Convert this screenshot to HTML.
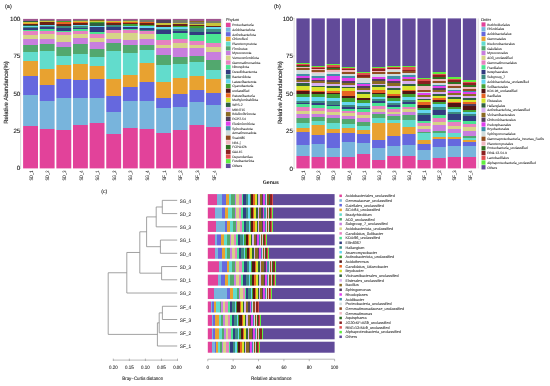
<!DOCTYPE html>
<html><head><meta charset="utf-8"><style>
html,body{margin:0;padding:0;background:#fff;width:550px;height:386px;overflow:hidden}
svg{display:block;will-change:transform}
text{font-family:"Liberation Sans",sans-serif;text-rendering:geometricPrecision}
</style></head><body>
<svg width="550" height="386" viewBox="0 0 550 386">
<rect x="0" y="0" width="550" height="386" fill="#fff"/>
<defs><linearGradient id="g0" x1="0" y1="0" x2="0" y2="1"><stop offset="0.00000" stop-color="#a0558e"/><stop offset="0.01338" stop-color="#a0558e"/><stop offset="0.01338" stop-color="#2e6040"/><stop offset="0.01806" stop-color="#2e6040"/><stop offset="0.01806" stop-color="#c8c43a"/><stop offset="0.02475" stop-color="#c8c43a"/><stop offset="0.02475" stop-color="#e8a230"/><stop offset="0.03278" stop-color="#e8a230"/><stop offset="0.03278" stop-color="#6a2216"/><stop offset="0.03946" stop-color="#6a2216"/><stop offset="0.03946" stop-color="#2e6040"/><stop offset="0.04615" stop-color="#2e6040"/><stop offset="0.04615" stop-color="#64d8f0"/><stop offset="0.05217" stop-color="#64d8f0"/><stop offset="0.05217" stop-color="#3c8c80"/><stop offset="0.06288" stop-color="#3c8c80"/><stop offset="0.06288" stop-color="#323c80"/><stop offset="0.07157" stop-color="#323c80"/><stop offset="0.07157" stop-color="#4ae492"/><stop offset="0.07960" stop-color="#4ae492"/><stop offset="0.07960" stop-color="#e682c0"/><stop offset="0.10569" stop-color="#e682c0"/><stop offset="0.10569" stop-color="#d6d488"/><stop offset="0.13712" stop-color="#d6d488"/><stop offset="0.13712" stop-color="#c87ede"/><stop offset="0.17124" stop-color="#c87ede"/><stop offset="0.17124" stop-color="#52a86e"/><stop offset="0.22074" stop-color="#52a86e"/><stop offset="0.22074" stop-color="#62dccc"/><stop offset="0.27960" stop-color="#62dccc"/><stop offset="0.27960" stop-color="#e8a230"/><stop offset="0.38194" stop-color="#e8a230"/><stop offset="0.38194" stop-color="#6668de"/><stop offset="0.50970" stop-color="#6668de"/><stop offset="0.50970" stop-color="#78b4dc"/><stop offset="0.71773" stop-color="#78b4dc"/><stop offset="0.71773" stop-color="#e2429a"/><stop offset="1.00000" stop-color="#e2429a"/></linearGradient><linearGradient id="g1" x1="0" y1="0" x2="0" y2="1"><stop offset="0.00000" stop-color="#a0558e"/><stop offset="0.00870" stop-color="#a0558e"/><stop offset="0.00870" stop-color="#7a7a6a"/><stop offset="0.01739" stop-color="#7a7a6a"/><stop offset="0.01739" stop-color="#c8c43a"/><stop offset="0.02408" stop-color="#c8c43a"/><stop offset="0.02408" stop-color="#6a2216"/><stop offset="0.03880" stop-color="#6a2216"/><stop offset="0.03880" stop-color="#64d8f0"/><stop offset="0.05017" stop-color="#64d8f0"/><stop offset="0.05017" stop-color="#3c8c80"/><stop offset="0.05619" stop-color="#3c8c80"/><stop offset="0.05619" stop-color="#323c80"/><stop offset="0.06890" stop-color="#323c80"/><stop offset="0.06890" stop-color="#4ae492"/><stop offset="0.07960" stop-color="#4ae492"/><stop offset="0.07960" stop-color="#e682c0"/><stop offset="0.10234" stop-color="#e682c0"/><stop offset="0.10234" stop-color="#d6d488"/><stop offset="0.13445" stop-color="#d6d488"/><stop offset="0.13445" stop-color="#c87ede"/><stop offset="0.16856" stop-color="#c87ede"/><stop offset="0.16856" stop-color="#52a86e"/><stop offset="0.21472" stop-color="#52a86e"/><stop offset="0.21472" stop-color="#62dccc"/><stop offset="0.33311" stop-color="#62dccc"/><stop offset="0.33311" stop-color="#e8a230"/><stop offset="0.44080" stop-color="#e8a230"/><stop offset="0.44080" stop-color="#6668de"/><stop offset="0.55117" stop-color="#6668de"/><stop offset="0.55117" stop-color="#78b4dc"/><stop offset="0.73378" stop-color="#78b4dc"/><stop offset="0.73378" stop-color="#e2429a"/><stop offset="1.00000" stop-color="#e2429a"/></linearGradient><linearGradient id="g2" x1="0" y1="0" x2="0" y2="1"><stop offset="0.00000" stop-color="#a0558e"/><stop offset="0.01139" stop-color="#a0558e"/><stop offset="0.01139" stop-color="#42a032"/><stop offset="0.02277" stop-color="#42a032"/><stop offset="0.02277" stop-color="#e86422"/><stop offset="0.03148" stop-color="#e86422"/><stop offset="0.03148" stop-color="#6a2216"/><stop offset="0.04889" stop-color="#6a2216"/><stop offset="0.04889" stop-color="#3c8c80"/><stop offset="0.05894" stop-color="#3c8c80"/><stop offset="0.05894" stop-color="#323c80"/><stop offset="0.07837" stop-color="#323c80"/><stop offset="0.07837" stop-color="#4ae492"/><stop offset="0.08975" stop-color="#4ae492"/><stop offset="0.08975" stop-color="#e682c0"/><stop offset="0.10650" stop-color="#e682c0"/><stop offset="0.10650" stop-color="#d6d488"/><stop offset="0.15338" stop-color="#d6d488"/><stop offset="0.15338" stop-color="#c87ede"/><stop offset="0.18486" stop-color="#c87ede"/><stop offset="0.18486" stop-color="#52a86e"/><stop offset="0.24514" stop-color="#52a86e"/><stop offset="0.24514" stop-color="#62dccc"/><stop offset="0.30476" stop-color="#62dccc"/><stop offset="0.30476" stop-color="#e8a230"/><stop offset="0.40455" stop-color="#e8a230"/><stop offset="0.40455" stop-color="#6668de"/><stop offset="0.52579" stop-color="#6668de"/><stop offset="0.52579" stop-color="#78b4dc"/><stop offset="0.74414" stop-color="#78b4dc"/><stop offset="0.74414" stop-color="#e2429a"/><stop offset="1.00000" stop-color="#e2429a"/></linearGradient><linearGradient id="g3" x1="0" y1="0" x2="0" y2="1"><stop offset="0.00000" stop-color="#a0558e"/><stop offset="0.00669" stop-color="#a0558e"/><stop offset="0.00669" stop-color="#7a7a6a"/><stop offset="0.01538" stop-color="#7a7a6a"/><stop offset="0.01538" stop-color="#c8c43a"/><stop offset="0.01873" stop-color="#c8c43a"/><stop offset="0.01873" stop-color="#e86422"/><stop offset="0.02742" stop-color="#e86422"/><stop offset="0.02742" stop-color="#6a2216"/><stop offset="0.03746" stop-color="#6a2216"/><stop offset="0.03746" stop-color="#64d8f0"/><stop offset="0.05017" stop-color="#64d8f0"/><stop offset="0.05017" stop-color="#3c8c80"/><stop offset="0.05886" stop-color="#3c8c80"/><stop offset="0.05886" stop-color="#323c80"/><stop offset="0.07090" stop-color="#323c80"/><stop offset="0.07090" stop-color="#4ae492"/><stop offset="0.07960" stop-color="#4ae492"/><stop offset="0.07960" stop-color="#e682c0"/><stop offset="0.10234" stop-color="#e682c0"/><stop offset="0.10234" stop-color="#d6d488"/><stop offset="0.12977" stop-color="#d6d488"/><stop offset="0.12977" stop-color="#c87ede"/><stop offset="0.16455" stop-color="#c87ede"/><stop offset="0.16455" stop-color="#52a86e"/><stop offset="0.23679" stop-color="#52a86e"/><stop offset="0.23679" stop-color="#62dccc"/><stop offset="0.30368" stop-color="#62dccc"/><stop offset="0.30368" stop-color="#e8a230"/><stop offset="0.41003" stop-color="#e8a230"/><stop offset="0.41003" stop-color="#6668de"/><stop offset="0.53043" stop-color="#6668de"/><stop offset="0.53043" stop-color="#78b4dc"/><stop offset="0.70903" stop-color="#78b4dc"/><stop offset="0.70903" stop-color="#e2429a"/><stop offset="1.00000" stop-color="#e2429a"/></linearGradient><linearGradient id="g4" x1="0" y1="0" x2="0" y2="1"><stop offset="0.00000" stop-color="#a0558e"/><stop offset="0.00669" stop-color="#a0558e"/><stop offset="0.00669" stop-color="#8a6a22"/><stop offset="0.01538" stop-color="#8a6a22"/><stop offset="0.01538" stop-color="#c8c43a"/><stop offset="0.02140" stop-color="#c8c43a"/><stop offset="0.02140" stop-color="#42a032"/><stop offset="0.03010" stop-color="#42a032"/><stop offset="0.03010" stop-color="#2e6040"/><stop offset="0.04615" stop-color="#2e6040"/><stop offset="0.04615" stop-color="#64d8f0"/><stop offset="0.05418" stop-color="#64d8f0"/><stop offset="0.05418" stop-color="#323c80"/><stop offset="0.08629" stop-color="#323c80"/><stop offset="0.08629" stop-color="#4ae492"/><stop offset="0.09967" stop-color="#4ae492"/><stop offset="0.09967" stop-color="#e682c0"/><stop offset="0.12575" stop-color="#e682c0"/><stop offset="0.12575" stop-color="#d6d488"/><stop offset="0.15585" stop-color="#d6d488"/><stop offset="0.15585" stop-color="#c87ede"/><stop offset="0.20067" stop-color="#c87ede"/><stop offset="0.20067" stop-color="#52a86e"/><stop offset="0.25217" stop-color="#52a86e"/><stop offset="0.25217" stop-color="#62dccc"/><stop offset="0.31171" stop-color="#62dccc"/><stop offset="0.31171" stop-color="#e8a230"/><stop offset="0.40535" stop-color="#e8a230"/><stop offset="0.40535" stop-color="#6668de"/><stop offset="0.53043" stop-color="#6668de"/><stop offset="0.53043" stop-color="#78b4dc"/><stop offset="0.69632" stop-color="#78b4dc"/><stop offset="0.69632" stop-color="#e2429a"/><stop offset="1.00000" stop-color="#e2429a"/></linearGradient><linearGradient id="g5" x1="0" y1="0" x2="0" y2="1"><stop offset="0.00000" stop-color="#a0558e"/><stop offset="0.01271" stop-color="#a0558e"/><stop offset="0.01271" stop-color="#c8c43a"/><stop offset="0.02140" stop-color="#c8c43a"/><stop offset="0.02140" stop-color="#e86422"/><stop offset="0.02742" stop-color="#e86422"/><stop offset="0.02742" stop-color="#6a2216"/><stop offset="0.03880" stop-color="#6a2216"/><stop offset="0.03880" stop-color="#3c8c80"/><stop offset="0.05619" stop-color="#3c8c80"/><stop offset="0.05619" stop-color="#323c80"/><stop offset="0.07157" stop-color="#323c80"/><stop offset="0.07157" stop-color="#4ae492"/><stop offset="0.07625" stop-color="#4ae492"/><stop offset="0.07625" stop-color="#e682c0"/><stop offset="0.09097" stop-color="#e682c0"/><stop offset="0.09097" stop-color="#d6d488"/><stop offset="0.13177" stop-color="#d6d488"/><stop offset="0.13177" stop-color="#c87ede"/><stop offset="0.16254" stop-color="#c87ede"/><stop offset="0.16254" stop-color="#52a86e"/><stop offset="0.21472" stop-color="#52a86e"/><stop offset="0.21472" stop-color="#62dccc"/><stop offset="0.40334" stop-color="#62dccc"/><stop offset="0.40334" stop-color="#e8a230"/><stop offset="0.51572" stop-color="#e8a230"/><stop offset="0.51572" stop-color="#6668de"/><stop offset="0.62408" stop-color="#6668de"/><stop offset="0.62408" stop-color="#78b4dc"/><stop offset="0.77124" stop-color="#78b4dc"/><stop offset="0.77124" stop-color="#e2429a"/><stop offset="1.00000" stop-color="#e2429a"/></linearGradient><linearGradient id="g6" x1="0" y1="0" x2="0" y2="1"><stop offset="0.00000" stop-color="#a0558e"/><stop offset="0.00669" stop-color="#a0558e"/><stop offset="0.00669" stop-color="#7a7a6a"/><stop offset="0.01538" stop-color="#7a7a6a"/><stop offset="0.01538" stop-color="#c8c43a"/><stop offset="0.02140" stop-color="#c8c43a"/><stop offset="0.02140" stop-color="#e86422"/><stop offset="0.02742" stop-color="#e86422"/><stop offset="0.02742" stop-color="#6a2216"/><stop offset="0.03612" stop-color="#6a2216"/><stop offset="0.03612" stop-color="#42a032"/><stop offset="0.04482" stop-color="#42a032"/><stop offset="0.04482" stop-color="#64d8f0"/><stop offset="0.05485" stop-color="#64d8f0"/><stop offset="0.05485" stop-color="#323c80"/><stop offset="0.06890" stop-color="#323c80"/><stop offset="0.06890" stop-color="#4ae492"/><stop offset="0.07625" stop-color="#4ae492"/><stop offset="0.07625" stop-color="#e682c0"/><stop offset="0.09365" stop-color="#e682c0"/><stop offset="0.09365" stop-color="#d6d488"/><stop offset="0.13846" stop-color="#d6d488"/><stop offset="0.13846" stop-color="#c87ede"/><stop offset="0.17458" stop-color="#c87ede"/><stop offset="0.17458" stop-color="#52a86e"/><stop offset="0.22475" stop-color="#52a86e"/><stop offset="0.22475" stop-color="#62dccc"/><stop offset="0.37458" stop-color="#62dccc"/><stop offset="0.37458" stop-color="#e8a230"/><stop offset="0.45351" stop-color="#e8a230"/><stop offset="0.45351" stop-color="#6668de"/><stop offset="0.55117" stop-color="#6668de"/><stop offset="0.55117" stop-color="#78b4dc"/><stop offset="0.72776" stop-color="#78b4dc"/><stop offset="0.72776" stop-color="#e2429a"/><stop offset="1.00000" stop-color="#e2429a"/></linearGradient><linearGradient id="g7" x1="0" y1="0" x2="0" y2="1"><stop offset="0.00000" stop-color="#a0558e"/><stop offset="0.00870" stop-color="#a0558e"/><stop offset="0.00870" stop-color="#7a7a6a"/><stop offset="0.01940" stop-color="#7a7a6a"/><stop offset="0.01940" stop-color="#e86422"/><stop offset="0.02742" stop-color="#e86422"/><stop offset="0.02742" stop-color="#6a2216"/><stop offset="0.03880" stop-color="#6a2216"/><stop offset="0.03880" stop-color="#42a032"/><stop offset="0.04749" stop-color="#42a032"/><stop offset="0.04749" stop-color="#64d8f0"/><stop offset="0.05753" stop-color="#64d8f0"/><stop offset="0.05753" stop-color="#323c80"/><stop offset="0.07625" stop-color="#323c80"/><stop offset="0.07625" stop-color="#3c8c80"/><stop offset="0.08227" stop-color="#3c8c80"/><stop offset="0.08227" stop-color="#e682c0"/><stop offset="0.10368" stop-color="#e682c0"/><stop offset="0.10368" stop-color="#d6d488"/><stop offset="0.13378" stop-color="#d6d488"/><stop offset="0.13378" stop-color="#c87ede"/><stop offset="0.17124" stop-color="#c87ede"/><stop offset="0.17124" stop-color="#52a86e"/><stop offset="0.20936" stop-color="#52a86e"/><stop offset="0.20936" stop-color="#62dccc"/><stop offset="0.29766" stop-color="#62dccc"/><stop offset="0.29766" stop-color="#e8a230"/><stop offset="0.42007" stop-color="#e8a230"/><stop offset="0.42007" stop-color="#6668de"/><stop offset="0.54716" stop-color="#6668de"/><stop offset="0.54716" stop-color="#78b4dc"/><stop offset="0.73378" stop-color="#78b4dc"/><stop offset="0.73378" stop-color="#e2429a"/><stop offset="1.00000" stop-color="#e2429a"/></linearGradient><linearGradient id="g8" x1="0" y1="0" x2="0" y2="1"><stop offset="0.00000" stop-color="#a0558e"/><stop offset="0.00870" stop-color="#a0558e"/><stop offset="0.00870" stop-color="#50405e"/><stop offset="0.02475" stop-color="#50405e"/><stop offset="0.02475" stop-color="#c8c43a"/><stop offset="0.03880" stop-color="#c8c43a"/><stop offset="0.03880" stop-color="#6a2216"/><stop offset="0.05151" stop-color="#6a2216"/><stop offset="0.05151" stop-color="#64d8f0"/><stop offset="0.06488" stop-color="#64d8f0"/><stop offset="0.06488" stop-color="#3c8c80"/><stop offset="0.07759" stop-color="#3c8c80"/><stop offset="0.07759" stop-color="#323c80"/><stop offset="0.09967" stop-color="#323c80"/><stop offset="0.09967" stop-color="#4ae492"/><stop offset="0.13980" stop-color="#4ae492"/><stop offset="0.13980" stop-color="#e682c0"/><stop offset="0.17324" stop-color="#e682c0"/><stop offset="0.17324" stop-color="#d6d488"/><stop offset="0.19732" stop-color="#d6d488"/><stop offset="0.19732" stop-color="#c87ede"/><stop offset="0.23813" stop-color="#c87ede"/><stop offset="0.23813" stop-color="#52a86e"/><stop offset="0.30769" stop-color="#52a86e"/><stop offset="0.30769" stop-color="#62dccc"/><stop offset="0.42408" stop-color="#62dccc"/><stop offset="0.42408" stop-color="#e8a230"/><stop offset="0.52642" stop-color="#e8a230"/><stop offset="0.52642" stop-color="#6668de"/><stop offset="0.59866" stop-color="#6668de"/><stop offset="0.59866" stop-color="#78b4dc"/><stop offset="0.76522" stop-color="#78b4dc"/><stop offset="0.76522" stop-color="#e2429a"/><stop offset="1.00000" stop-color="#e2429a"/></linearGradient><linearGradient id="g9" x1="0" y1="0" x2="0" y2="1"><stop offset="0.00000" stop-color="#a0558e"/><stop offset="0.00870" stop-color="#a0558e"/><stop offset="0.00870" stop-color="#7a7a6a"/><stop offset="0.02609" stop-color="#7a7a6a"/><stop offset="0.02609" stop-color="#c8c43a"/><stop offset="0.03612" stop-color="#c8c43a"/><stop offset="0.03612" stop-color="#6a2216"/><stop offset="0.04482" stop-color="#6a2216"/><stop offset="0.04482" stop-color="#42a032"/><stop offset="0.05351" stop-color="#42a032"/><stop offset="0.05351" stop-color="#64d8f0"/><stop offset="0.06756" stop-color="#64d8f0"/><stop offset="0.06756" stop-color="#3c8c80"/><stop offset="0.08227" stop-color="#3c8c80"/><stop offset="0.08227" stop-color="#323c80"/><stop offset="0.09498" stop-color="#323c80"/><stop offset="0.09498" stop-color="#4ae492"/><stop offset="0.13378" stop-color="#4ae492"/><stop offset="0.13378" stop-color="#e682c0"/><stop offset="0.16254" stop-color="#e682c0"/><stop offset="0.16254" stop-color="#d6d488"/><stop offset="0.19465" stop-color="#d6d488"/><stop offset="0.19465" stop-color="#c87ede"/><stop offset="0.25485" stop-color="#c87ede"/><stop offset="0.25485" stop-color="#52a86e"/><stop offset="0.30167" stop-color="#52a86e"/><stop offset="0.30167" stop-color="#62dccc"/><stop offset="0.39331" stop-color="#62dccc"/><stop offset="0.39331" stop-color="#e8a230"/><stop offset="0.49900" stop-color="#e8a230"/><stop offset="0.49900" stop-color="#6668de"/><stop offset="0.58662" stop-color="#6668de"/><stop offset="0.58662" stop-color="#78b4dc"/><stop offset="0.74448" stop-color="#78b4dc"/><stop offset="0.74448" stop-color="#e2429a"/><stop offset="1.00000" stop-color="#e2429a"/></linearGradient><linearGradient id="g10" x1="0" y1="0" x2="0" y2="1"><stop offset="0.00000" stop-color="#a0558e"/><stop offset="0.01271" stop-color="#a0558e"/><stop offset="0.01271" stop-color="#8a6a22"/><stop offset="0.02140" stop-color="#8a6a22"/><stop offset="0.02140" stop-color="#7a7a6a"/><stop offset="0.03144" stop-color="#7a7a6a"/><stop offset="0.03144" stop-color="#c8c43a"/><stop offset="0.04147" stop-color="#c8c43a"/><stop offset="0.04147" stop-color="#6a2216"/><stop offset="0.05017" stop-color="#6a2216"/><stop offset="0.05017" stop-color="#42a032"/><stop offset="0.06020" stop-color="#42a032"/><stop offset="0.06020" stop-color="#3c8c80"/><stop offset="0.08629" stop-color="#3c8c80"/><stop offset="0.08629" stop-color="#323c80"/><stop offset="0.10569" stop-color="#323c80"/><stop offset="0.10569" stop-color="#4ae492"/><stop offset="0.14716" stop-color="#4ae492"/><stop offset="0.14716" stop-color="#e682c0"/><stop offset="0.17324" stop-color="#e682c0"/><stop offset="0.17324" stop-color="#d6d488"/><stop offset="0.19732" stop-color="#d6d488"/><stop offset="0.19732" stop-color="#c87ede"/><stop offset="0.24950" stop-color="#c87ede"/><stop offset="0.24950" stop-color="#52a86e"/><stop offset="0.29097" stop-color="#52a86e"/><stop offset="0.29097" stop-color="#62dccc"/><stop offset="0.37860" stop-color="#62dccc"/><stop offset="0.37860" stop-color="#e8a230"/><stop offset="0.47425" stop-color="#e8a230"/><stop offset="0.47425" stop-color="#6668de"/><stop offset="0.55719" stop-color="#6668de"/><stop offset="0.55719" stop-color="#78b4dc"/><stop offset="0.71304" stop-color="#78b4dc"/><stop offset="0.71304" stop-color="#e2429a"/><stop offset="1.00000" stop-color="#e2429a"/></linearGradient><linearGradient id="g11" x1="0" y1="0" x2="0" y2="1"><stop offset="0.00000" stop-color="#a0558e"/><stop offset="0.01538" stop-color="#a0558e"/><stop offset="0.01538" stop-color="#7a7a6a"/><stop offset="0.02475" stop-color="#7a7a6a"/><stop offset="0.02475" stop-color="#c8c43a"/><stop offset="0.04749" stop-color="#c8c43a"/><stop offset="0.04749" stop-color="#6a2216"/><stop offset="0.05485" stop-color="#6a2216"/><stop offset="0.05485" stop-color="#64d8f0"/><stop offset="0.06756" stop-color="#64d8f0"/><stop offset="0.06756" stop-color="#3c8c80"/><stop offset="0.08629" stop-color="#3c8c80"/><stop offset="0.08629" stop-color="#323c80"/><stop offset="0.10368" stop-color="#323c80"/><stop offset="0.10368" stop-color="#4ae492"/><stop offset="0.15987" stop-color="#4ae492"/><stop offset="0.15987" stop-color="#e682c0"/><stop offset="0.18863" stop-color="#e682c0"/><stop offset="0.18863" stop-color="#d6d488"/><stop offset="0.22007" stop-color="#d6d488"/><stop offset="0.22007" stop-color="#c87ede"/><stop offset="0.27692" stop-color="#c87ede"/><stop offset="0.27692" stop-color="#52a86e"/><stop offset="0.33913" stop-color="#52a86e"/><stop offset="0.33913" stop-color="#62dccc"/><stop offset="0.39933" stop-color="#62dccc"/><stop offset="0.39933" stop-color="#e8a230"/><stop offset="0.49498" stop-color="#e8a230"/><stop offset="0.49498" stop-color="#6668de"/><stop offset="0.57793" stop-color="#6668de"/><stop offset="0.57793" stop-color="#78b4dc"/><stop offset="0.72375" stop-color="#78b4dc"/><stop offset="0.72375" stop-color="#e2429a"/><stop offset="1.00000" stop-color="#e2429a"/></linearGradient><linearGradient id="g12" x1="0" y1="0" x2="0" y2="1"><stop offset="0.00000" stop-color="#614a99"/><stop offset="0.29800" stop-color="#614a99"/><stop offset="0.29800" stop-color="#60ee40"/><stop offset="0.30600" stop-color="#60ee40"/><stop offset="0.30600" stop-color="#e05050"/><stop offset="0.31267" stop-color="#e05050"/><stop offset="0.31267" stop-color="#8c2020"/><stop offset="0.32000" stop-color="#8c2020"/><stop offset="0.32000" stop-color="#2e7020"/><stop offset="0.32667" stop-color="#2e7020"/><stop offset="0.32667" stop-color="#f0b8c0"/><stop offset="0.33267" stop-color="#f0b8c0"/><stop offset="0.33267" stop-color="#904e20"/><stop offset="0.34200" stop-color="#904e20"/><stop offset="0.34200" stop-color="#d0dcdc"/><stop offset="0.37200" stop-color="#d0dcdc"/><stop offset="0.37200" stop-color="#4090a8"/><stop offset="0.38400" stop-color="#4090a8"/><stop offset="0.38400" stop-color="#e040ee"/><stop offset="0.39867" stop-color="#e040ee"/><stop offset="0.39867" stop-color="#50405e"/><stop offset="0.41000" stop-color="#50405e"/><stop offset="0.41000" stop-color="#8a6a22"/><stop offset="0.42467" stop-color="#8a6a22"/><stop offset="0.42467" stop-color="#d8b0f0"/><stop offset="0.43400" stop-color="#d8b0f0"/><stop offset="0.43400" stop-color="#2e6040"/><stop offset="0.44800" stop-color="#2e6040"/><stop offset="0.44800" stop-color="#d4e42c"/><stop offset="0.47667" stop-color="#d4e42c"/><stop offset="0.47667" stop-color="#e86422"/><stop offset="0.48600" stop-color="#e86422"/><stop offset="0.48600" stop-color="#541414"/><stop offset="0.50067" stop-color="#541414"/><stop offset="0.50067" stop-color="#42a032"/><stop offset="0.52267" stop-color="#42a032"/><stop offset="0.52267" stop-color="#64d8f0"/><stop offset="0.54800" stop-color="#64d8f0"/><stop offset="0.54800" stop-color="#3c8c80"/><stop offset="0.56200" stop-color="#3c8c80"/><stop offset="0.56200" stop-color="#323c80"/><stop offset="0.57200" stop-color="#323c80"/><stop offset="0.57200" stop-color="#4ae492"/><stop offset="0.59067" stop-color="#4ae492"/><stop offset="0.59067" stop-color="#e682c0"/><stop offset="0.61733" stop-color="#e682c0"/><stop offset="0.61733" stop-color="#d6d488"/><stop offset="0.64000" stop-color="#d6d488"/><stop offset="0.64000" stop-color="#c87ede"/><stop offset="0.66067" stop-color="#c87ede"/><stop offset="0.66067" stop-color="#52a86e"/><stop offset="0.69533" stop-color="#52a86e"/><stop offset="0.69533" stop-color="#62dccc"/><stop offset="0.73267" stop-color="#62dccc"/><stop offset="0.73267" stop-color="#e8a230"/><stop offset="0.75533" stop-color="#e8a230"/><stop offset="0.75533" stop-color="#6668de"/><stop offset="0.84333" stop-color="#6668de"/><stop offset="0.84333" stop-color="#78b4dc"/><stop offset="0.91800" stop-color="#78b4dc"/><stop offset="0.91800" stop-color="#e2429a"/><stop offset="1.00000" stop-color="#e2429a"/></linearGradient><linearGradient id="g13" x1="0" y1="0" x2="0" y2="1"><stop offset="0.00000" stop-color="#614a99"/><stop offset="0.31533" stop-color="#614a99"/><stop offset="0.31533" stop-color="#60ee40"/><stop offset="0.32267" stop-color="#60ee40"/><stop offset="0.32267" stop-color="#e05050"/><stop offset="0.32933" stop-color="#e05050"/><stop offset="0.32933" stop-color="#8c2020"/><stop offset="0.33600" stop-color="#8c2020"/><stop offset="0.33600" stop-color="#f0b8c0"/><stop offset="0.34400" stop-color="#f0b8c0"/><stop offset="0.34400" stop-color="#904e20"/><stop offset="0.35800" stop-color="#904e20"/><stop offset="0.35800" stop-color="#f0b8c0"/><stop offset="0.36733" stop-color="#f0b8c0"/><stop offset="0.36733" stop-color="#d0dcdc"/><stop offset="0.38200" stop-color="#d0dcdc"/><stop offset="0.38200" stop-color="#4090a8"/><stop offset="0.39600" stop-color="#4090a8"/><stop offset="0.39600" stop-color="#e040ee"/><stop offset="0.40867" stop-color="#e040ee"/><stop offset="0.40867" stop-color="#50405e"/><stop offset="0.41800" stop-color="#50405e"/><stop offset="0.41800" stop-color="#8a6a22"/><stop offset="0.43400" stop-color="#8a6a22"/><stop offset="0.43400" stop-color="#d8b0f0"/><stop offset="0.44800" stop-color="#d8b0f0"/><stop offset="0.44800" stop-color="#2e6040"/><stop offset="0.45800" stop-color="#2e6040"/><stop offset="0.45800" stop-color="#d4e42c"/><stop offset="0.48133" stop-color="#d4e42c"/><stop offset="0.48133" stop-color="#e86422"/><stop offset="0.49067" stop-color="#e86422"/><stop offset="0.49067" stop-color="#541414"/><stop offset="0.50533" stop-color="#541414"/><stop offset="0.50533" stop-color="#42a032"/><stop offset="0.52600" stop-color="#42a032"/><stop offset="0.52600" stop-color="#64d8f0"/><stop offset="0.54800" stop-color="#64d8f0"/><stop offset="0.54800" stop-color="#3c8c80"/><stop offset="0.56200" stop-color="#3c8c80"/><stop offset="0.56200" stop-color="#323c80"/><stop offset="0.57667" stop-color="#323c80"/><stop offset="0.57667" stop-color="#4ae492"/><stop offset="0.59533" stop-color="#4ae492"/><stop offset="0.59533" stop-color="#e682c0"/><stop offset="0.61867" stop-color="#e682c0"/><stop offset="0.61867" stop-color="#d6d488"/><stop offset="0.63667" stop-color="#d6d488"/><stop offset="0.63667" stop-color="#c87ede"/><stop offset="0.65733" stop-color="#c87ede"/><stop offset="0.65733" stop-color="#52a86e"/><stop offset="0.68133" stop-color="#52a86e"/><stop offset="0.68133" stop-color="#62dccc"/><stop offset="0.71400" stop-color="#62dccc"/><stop offset="0.71400" stop-color="#e8a230"/><stop offset="0.77600" stop-color="#e8a230"/><stop offset="0.77600" stop-color="#6668de"/><stop offset="0.83867" stop-color="#6668de"/><stop offset="0.83867" stop-color="#78b4dc"/><stop offset="0.92667" stop-color="#78b4dc"/><stop offset="0.92667" stop-color="#e2429a"/><stop offset="1.00000" stop-color="#e2429a"/></linearGradient><linearGradient id="g14" x1="0" y1="0" x2="0" y2="1"><stop offset="0.00000" stop-color="#614a99"/><stop offset="0.30333" stop-color="#614a99"/><stop offset="0.30333" stop-color="#60ee40"/><stop offset="0.31067" stop-color="#60ee40"/><stop offset="0.31067" stop-color="#e05050"/><stop offset="0.32133" stop-color="#e05050"/><stop offset="0.32133" stop-color="#8c2020"/><stop offset="0.33133" stop-color="#8c2020"/><stop offset="0.33133" stop-color="#2e7020"/><stop offset="0.33867" stop-color="#2e7020"/><stop offset="0.33867" stop-color="#904e20"/><stop offset="0.34667" stop-color="#904e20"/><stop offset="0.34667" stop-color="#f0b8c0"/><stop offset="0.35533" stop-color="#f0b8c0"/><stop offset="0.35533" stop-color="#d0dcdc"/><stop offset="0.37267" stop-color="#d0dcdc"/><stop offset="0.37267" stop-color="#4090a8"/><stop offset="0.38667" stop-color="#4090a8"/><stop offset="0.38667" stop-color="#e040ee"/><stop offset="0.40933" stop-color="#e040ee"/><stop offset="0.40933" stop-color="#50405e"/><stop offset="0.42133" stop-color="#50405e"/><stop offset="0.42133" stop-color="#8a6a22"/><stop offset="0.43800" stop-color="#8a6a22"/><stop offset="0.43800" stop-color="#d8b0f0"/><stop offset="0.44867" stop-color="#d8b0f0"/><stop offset="0.44867" stop-color="#2e6040"/><stop offset="0.46067" stop-color="#2e6040"/><stop offset="0.46067" stop-color="#d4e42c"/><stop offset="0.48667" stop-color="#d4e42c"/><stop offset="0.48667" stop-color="#e86422"/><stop offset="0.49733" stop-color="#e86422"/><stop offset="0.49733" stop-color="#541414"/><stop offset="0.50733" stop-color="#541414"/><stop offset="0.50733" stop-color="#42a032"/><stop offset="0.52867" stop-color="#42a032"/><stop offset="0.52867" stop-color="#64d8f0"/><stop offset="0.55400" stop-color="#64d8f0"/><stop offset="0.55400" stop-color="#3c8c80"/><stop offset="0.57533" stop-color="#3c8c80"/><stop offset="0.57533" stop-color="#323c80"/><stop offset="0.58533" stop-color="#323c80"/><stop offset="0.58533" stop-color="#4ae492"/><stop offset="0.60600" stop-color="#4ae492"/><stop offset="0.60600" stop-color="#e682c0"/><stop offset="0.62200" stop-color="#e682c0"/><stop offset="0.62200" stop-color="#d6d488"/><stop offset="0.64333" stop-color="#d6d488"/><stop offset="0.64333" stop-color="#c87ede"/><stop offset="0.66467" stop-color="#c87ede"/><stop offset="0.66467" stop-color="#52a86e"/><stop offset="0.69867" stop-color="#52a86e"/><stop offset="0.69867" stop-color="#62dccc"/><stop offset="0.74000" stop-color="#62dccc"/><stop offset="0.74000" stop-color="#e8a230"/><stop offset="0.76600" stop-color="#e8a230"/><stop offset="0.76600" stop-color="#6668de"/><stop offset="0.86200" stop-color="#6668de"/><stop offset="0.86200" stop-color="#78b4dc"/><stop offset="0.92667" stop-color="#78b4dc"/><stop offset="0.92667" stop-color="#e2429a"/><stop offset="1.00000" stop-color="#e2429a"/></linearGradient><linearGradient id="g15" x1="0" y1="0" x2="0" y2="1"><stop offset="0.00000" stop-color="#614a99"/><stop offset="0.32467" stop-color="#614a99"/><stop offset="0.32467" stop-color="#60ee40"/><stop offset="0.33200" stop-color="#60ee40"/><stop offset="0.33200" stop-color="#e05050"/><stop offset="0.33933" stop-color="#e05050"/><stop offset="0.33933" stop-color="#8c2020"/><stop offset="0.34733" stop-color="#8c2020"/><stop offset="0.34733" stop-color="#f0b8c0"/><stop offset="0.35600" stop-color="#f0b8c0"/><stop offset="0.35600" stop-color="#904e20"/><stop offset="0.36800" stop-color="#904e20"/><stop offset="0.36800" stop-color="#d0dcdc"/><stop offset="0.38400" stop-color="#d0dcdc"/><stop offset="0.38400" stop-color="#4090a8"/><stop offset="0.39933" stop-color="#4090a8"/><stop offset="0.39933" stop-color="#e040ee"/><stop offset="0.41467" stop-color="#e040ee"/><stop offset="0.41467" stop-color="#50405e"/><stop offset="0.42800" stop-color="#50405e"/><stop offset="0.42800" stop-color="#8a6a22"/><stop offset="0.44600" stop-color="#8a6a22"/><stop offset="0.44600" stop-color="#d8b0f0"/><stop offset="0.45600" stop-color="#d8b0f0"/><stop offset="0.45600" stop-color="#2e6040"/><stop offset="0.46667" stop-color="#2e6040"/><stop offset="0.46667" stop-color="#d4e42c"/><stop offset="0.48400" stop-color="#d4e42c"/><stop offset="0.48400" stop-color="#e86422"/><stop offset="0.51533" stop-color="#e86422"/><stop offset="0.51533" stop-color="#541414"/><stop offset="0.52867" stop-color="#541414"/><stop offset="0.52867" stop-color="#42a032"/><stop offset="0.55467" stop-color="#42a032"/><stop offset="0.55467" stop-color="#64d8f0"/><stop offset="0.57533" stop-color="#64d8f0"/><stop offset="0.57533" stop-color="#3c8c80"/><stop offset="0.59400" stop-color="#3c8c80"/><stop offset="0.59400" stop-color="#323c80"/><stop offset="0.60600" stop-color="#323c80"/><stop offset="0.60600" stop-color="#4ae492"/><stop offset="0.61867" stop-color="#4ae492"/><stop offset="0.61867" stop-color="#e682c0"/><stop offset="0.62933" stop-color="#e682c0"/><stop offset="0.62933" stop-color="#d6d488"/><stop offset="0.65400" stop-color="#d6d488"/><stop offset="0.65400" stop-color="#c87ede"/><stop offset="0.67067" stop-color="#c87ede"/><stop offset="0.67067" stop-color="#52a86e"/><stop offset="0.70200" stop-color="#52a86e"/><stop offset="0.70200" stop-color="#62dccc"/><stop offset="0.73267" stop-color="#62dccc"/><stop offset="0.73267" stop-color="#e8a230"/><stop offset="0.76400" stop-color="#e8a230"/><stop offset="0.76400" stop-color="#6668de"/><stop offset="0.82267" stop-color="#6668de"/><stop offset="0.82267" stop-color="#78b4dc"/><stop offset="0.92133" stop-color="#78b4dc"/><stop offset="0.92133" stop-color="#e2429a"/><stop offset="1.00000" stop-color="#e2429a"/></linearGradient><linearGradient id="g16" x1="0" y1="0" x2="0" y2="1"><stop offset="0.00000" stop-color="#614a99"/><stop offset="0.35600" stop-color="#614a99"/><stop offset="0.35600" stop-color="#60ee40"/><stop offset="0.36600" stop-color="#60ee40"/><stop offset="0.36600" stop-color="#e05050"/><stop offset="0.37867" stop-color="#e05050"/><stop offset="0.37867" stop-color="#8c2020"/><stop offset="0.38867" stop-color="#8c2020"/><stop offset="0.38867" stop-color="#904e20"/><stop offset="0.39933" stop-color="#904e20"/><stop offset="0.39933" stop-color="#d0dcdc"/><stop offset="0.42800" stop-color="#d0dcdc"/><stop offset="0.42800" stop-color="#4090a8"/><stop offset="0.43867" stop-color="#4090a8"/><stop offset="0.43867" stop-color="#e040ee"/><stop offset="0.45133" stop-color="#e040ee"/><stop offset="0.45133" stop-color="#50405e"/><stop offset="0.46133" stop-color="#50405e"/><stop offset="0.46133" stop-color="#8a6a22"/><stop offset="0.47667" stop-color="#8a6a22"/><stop offset="0.47667" stop-color="#d8b0f0"/><stop offset="0.49267" stop-color="#d8b0f0"/><stop offset="0.49267" stop-color="#2e6040"/><stop offset="0.50267" stop-color="#2e6040"/><stop offset="0.50267" stop-color="#d4e42c"/><stop offset="0.52867" stop-color="#d4e42c"/><stop offset="0.52867" stop-color="#541414"/><stop offset="0.54400" stop-color="#541414"/><stop offset="0.54400" stop-color="#42a032"/><stop offset="0.56467" stop-color="#42a032"/><stop offset="0.56467" stop-color="#64d8f0"/><stop offset="0.58067" stop-color="#64d8f0"/><stop offset="0.58067" stop-color="#3c8c80"/><stop offset="0.59600" stop-color="#3c8c80"/><stop offset="0.59600" stop-color="#323c80"/><stop offset="0.60600" stop-color="#323c80"/><stop offset="0.60600" stop-color="#4ae492"/><stop offset="0.62200" stop-color="#4ae492"/><stop offset="0.62200" stop-color="#e682c0"/><stop offset="0.64200" stop-color="#e682c0"/><stop offset="0.64200" stop-color="#d6d488"/><stop offset="0.66467" stop-color="#d6d488"/><stop offset="0.66467" stop-color="#c87ede"/><stop offset="0.69133" stop-color="#c87ede"/><stop offset="0.69133" stop-color="#52a86e"/><stop offset="0.71933" stop-color="#52a86e"/><stop offset="0.71933" stop-color="#62dccc"/><stop offset="0.74333" stop-color="#62dccc"/><stop offset="0.74333" stop-color="#e8a230"/><stop offset="0.77133" stop-color="#e8a230"/><stop offset="0.77133" stop-color="#6668de"/><stop offset="0.83000" stop-color="#6668de"/><stop offset="0.83000" stop-color="#78b4dc"/><stop offset="0.90600" stop-color="#78b4dc"/><stop offset="0.90600" stop-color="#e2429a"/><stop offset="1.00000" stop-color="#e2429a"/></linearGradient><linearGradient id="g17" x1="0" y1="0" x2="0" y2="1"><stop offset="0.00000" stop-color="#614a99"/><stop offset="0.32333" stop-color="#614a99"/><stop offset="0.32333" stop-color="#60ee40"/><stop offset="0.33200" stop-color="#60ee40"/><stop offset="0.33200" stop-color="#e05050"/><stop offset="0.34000" stop-color="#e05050"/><stop offset="0.34000" stop-color="#8c2020"/><stop offset="0.35000" stop-color="#8c2020"/><stop offset="0.35000" stop-color="#f0b8c0"/><stop offset="0.35933" stop-color="#f0b8c0"/><stop offset="0.35933" stop-color="#904e20"/><stop offset="0.36800" stop-color="#904e20"/><stop offset="0.36800" stop-color="#d0dcdc"/><stop offset="0.39200" stop-color="#d0dcdc"/><stop offset="0.39200" stop-color="#e040ee"/><stop offset="0.40400" stop-color="#e040ee"/><stop offset="0.40400" stop-color="#50405e"/><stop offset="0.42000" stop-color="#50405e"/><stop offset="0.42000" stop-color="#8a6a22"/><stop offset="0.43467" stop-color="#8a6a22"/><stop offset="0.43467" stop-color="#d8b0f0"/><stop offset="0.44667" stop-color="#d8b0f0"/><stop offset="0.44667" stop-color="#2e6040"/><stop offset="0.45867" stop-color="#2e6040"/><stop offset="0.45867" stop-color="#d4e42c"/><stop offset="0.47667" stop-color="#d4e42c"/><stop offset="0.47667" stop-color="#e86422"/><stop offset="0.49467" stop-color="#e86422"/><stop offset="0.49467" stop-color="#541414"/><stop offset="0.50733" stop-color="#541414"/><stop offset="0.50733" stop-color="#42a032"/><stop offset="0.52533" stop-color="#42a032"/><stop offset="0.52533" stop-color="#64d8f0"/><stop offset="0.53733" stop-color="#64d8f0"/><stop offset="0.53733" stop-color="#3c8c80"/><stop offset="0.55267" stop-color="#3c8c80"/><stop offset="0.55267" stop-color="#323c80"/><stop offset="0.56733" stop-color="#323c80"/><stop offset="0.56733" stop-color="#4ae492"/><stop offset="0.58533" stop-color="#4ae492"/><stop offset="0.58533" stop-color="#e682c0"/><stop offset="0.60133" stop-color="#e682c0"/><stop offset="0.60133" stop-color="#d6d488"/><stop offset="0.62200" stop-color="#d6d488"/><stop offset="0.62200" stop-color="#c87ede"/><stop offset="0.64000" stop-color="#c87ede"/><stop offset="0.64000" stop-color="#52a86e"/><stop offset="0.66200" stop-color="#52a86e"/><stop offset="0.66200" stop-color="#62dccc"/><stop offset="0.69467" stop-color="#62dccc"/><stop offset="0.69467" stop-color="#e8a230"/><stop offset="0.80933" stop-color="#e8a230"/><stop offset="0.80933" stop-color="#6668de"/><stop offset="0.86400" stop-color="#6668de"/><stop offset="0.86400" stop-color="#78b4dc"/><stop offset="0.94400" stop-color="#78b4dc"/><stop offset="0.94400" stop-color="#e2429a"/><stop offset="1.00000" stop-color="#e2429a"/></linearGradient><linearGradient id="g18" x1="0" y1="0" x2="0" y2="1"><stop offset="0.00000" stop-color="#614a99"/><stop offset="0.31867" stop-color="#614a99"/><stop offset="0.31867" stop-color="#60ee40"/><stop offset="0.32667" stop-color="#60ee40"/><stop offset="0.32667" stop-color="#e05050"/><stop offset="0.33333" stop-color="#e05050"/><stop offset="0.33333" stop-color="#8c2020"/><stop offset="0.33933" stop-color="#8c2020"/><stop offset="0.33933" stop-color="#f0b8c0"/><stop offset="0.34733" stop-color="#f0b8c0"/><stop offset="0.34733" stop-color="#d0dcdc"/><stop offset="0.35800" stop-color="#d0dcdc"/><stop offset="0.35800" stop-color="#904e20"/><stop offset="0.37000" stop-color="#904e20"/><stop offset="0.37000" stop-color="#d0dcdc"/><stop offset="0.38400" stop-color="#d0dcdc"/><stop offset="0.38400" stop-color="#4090a8"/><stop offset="0.40133" stop-color="#4090a8"/><stop offset="0.40133" stop-color="#e040ee"/><stop offset="0.41467" stop-color="#e040ee"/><stop offset="0.41467" stop-color="#50405e"/><stop offset="0.43067" stop-color="#50405e"/><stop offset="0.43067" stop-color="#8a6a22"/><stop offset="0.44867" stop-color="#8a6a22"/><stop offset="0.44867" stop-color="#d8b0f0"/><stop offset="0.46133" stop-color="#d8b0f0"/><stop offset="0.46133" stop-color="#2e6040"/><stop offset="0.47667" stop-color="#2e6040"/><stop offset="0.47667" stop-color="#d4e42c"/><stop offset="0.50267" stop-color="#d4e42c"/><stop offset="0.50267" stop-color="#e86422"/><stop offset="0.51800" stop-color="#e86422"/><stop offset="0.51800" stop-color="#541414"/><stop offset="0.53400" stop-color="#541414"/><stop offset="0.53400" stop-color="#42a032"/><stop offset="0.54933" stop-color="#42a032"/><stop offset="0.54933" stop-color="#64d8f0"/><stop offset="0.56467" stop-color="#64d8f0"/><stop offset="0.56467" stop-color="#3c8c80"/><stop offset="0.57733" stop-color="#3c8c80"/><stop offset="0.57733" stop-color="#323c80"/><stop offset="0.59067" stop-color="#323c80"/><stop offset="0.59067" stop-color="#4ae492"/><stop offset="0.60600" stop-color="#4ae492"/><stop offset="0.60600" stop-color="#e682c0"/><stop offset="0.62133" stop-color="#e682c0"/><stop offset="0.62133" stop-color="#d6d488"/><stop offset="0.63933" stop-color="#d6d488"/><stop offset="0.63933" stop-color="#c87ede"/><stop offset="0.65400" stop-color="#c87ede"/><stop offset="0.65400" stop-color="#52a86e"/><stop offset="0.67800" stop-color="#52a86e"/><stop offset="0.67800" stop-color="#62dccc"/><stop offset="0.69867" stop-color="#62dccc"/><stop offset="0.69867" stop-color="#e8a230"/><stop offset="0.78667" stop-color="#e8a230"/><stop offset="0.78667" stop-color="#6668de"/><stop offset="0.84867" stop-color="#6668de"/><stop offset="0.84867" stop-color="#78b4dc"/><stop offset="0.91800" stop-color="#78b4dc"/><stop offset="0.91800" stop-color="#e2429a"/><stop offset="1.00000" stop-color="#e2429a"/></linearGradient><linearGradient id="g19" x1="0" y1="0" x2="0" y2="1"><stop offset="0.00000" stop-color="#614a99"/><stop offset="0.31867" stop-color="#614a99"/><stop offset="0.31867" stop-color="#60ee40"/><stop offset="0.32667" stop-color="#60ee40"/><stop offset="0.32667" stop-color="#e05050"/><stop offset="0.34267" stop-color="#e05050"/><stop offset="0.34267" stop-color="#8c2020"/><stop offset="0.35267" stop-color="#8c2020"/><stop offset="0.35267" stop-color="#904e20"/><stop offset="0.36600" stop-color="#904e20"/><stop offset="0.36600" stop-color="#d0dcdc"/><stop offset="0.37867" stop-color="#d0dcdc"/><stop offset="0.37867" stop-color="#4090a8"/><stop offset="0.39400" stop-color="#4090a8"/><stop offset="0.39400" stop-color="#e040ee"/><stop offset="0.40733" stop-color="#e040ee"/><stop offset="0.40733" stop-color="#8a6a22"/><stop offset="0.42000" stop-color="#8a6a22"/><stop offset="0.42000" stop-color="#d8b0f0"/><stop offset="0.43533" stop-color="#d8b0f0"/><stop offset="0.43533" stop-color="#2e6040"/><stop offset="0.45133" stop-color="#2e6040"/><stop offset="0.45133" stop-color="#d4e42c"/><stop offset="0.47667" stop-color="#d4e42c"/><stop offset="0.47667" stop-color="#e86422"/><stop offset="0.48733" stop-color="#e86422"/><stop offset="0.48733" stop-color="#541414"/><stop offset="0.50267" stop-color="#541414"/><stop offset="0.50267" stop-color="#42a032"/><stop offset="0.52333" stop-color="#42a032"/><stop offset="0.52333" stop-color="#64d8f0"/><stop offset="0.54400" stop-color="#64d8f0"/><stop offset="0.54400" stop-color="#3c8c80"/><stop offset="0.56000" stop-color="#3c8c80"/><stop offset="0.56000" stop-color="#323c80"/><stop offset="0.57000" stop-color="#323c80"/><stop offset="0.57000" stop-color="#4ae492"/><stop offset="0.59067" stop-color="#4ae492"/><stop offset="0.59067" stop-color="#e682c0"/><stop offset="0.60600" stop-color="#e682c0"/><stop offset="0.60600" stop-color="#d6d488"/><stop offset="0.62600" stop-color="#d6d488"/><stop offset="0.62600" stop-color="#c87ede"/><stop offset="0.64667" stop-color="#c87ede"/><stop offset="0.64667" stop-color="#52a86e"/><stop offset="0.67467" stop-color="#52a86e"/><stop offset="0.67467" stop-color="#62dccc"/><stop offset="0.72267" stop-color="#62dccc"/><stop offset="0.72267" stop-color="#e8a230"/><stop offset="0.77133" stop-color="#e8a230"/><stop offset="0.77133" stop-color="#6668de"/><stop offset="0.84667" stop-color="#6668de"/><stop offset="0.84667" stop-color="#78b4dc"/><stop offset="0.91800" stop-color="#78b4dc"/><stop offset="0.91800" stop-color="#e2429a"/><stop offset="1.00000" stop-color="#e2429a"/></linearGradient><linearGradient id="g20" x1="0" y1="0" x2="0" y2="1"><stop offset="0.00000" stop-color="#614a99"/><stop offset="0.39600" stop-color="#614a99"/><stop offset="0.39600" stop-color="#60ee40"/><stop offset="0.40267" stop-color="#60ee40"/><stop offset="0.40267" stop-color="#e05050"/><stop offset="0.41667" stop-color="#e05050"/><stop offset="0.41667" stop-color="#8c2020"/><stop offset="0.43467" stop-color="#8c2020"/><stop offset="0.43467" stop-color="#2e7020"/><stop offset="0.45067" stop-color="#2e7020"/><stop offset="0.45067" stop-color="#f0b8c0"/><stop offset="0.47667" stop-color="#f0b8c0"/><stop offset="0.47667" stop-color="#904e20"/><stop offset="0.48933" stop-color="#904e20"/><stop offset="0.48933" stop-color="#d0dcdc"/><stop offset="0.49867" stop-color="#d0dcdc"/><stop offset="0.49867" stop-color="#e040ee"/><stop offset="0.51067" stop-color="#e040ee"/><stop offset="0.51067" stop-color="#8a6a22"/><stop offset="0.52267" stop-color="#8a6a22"/><stop offset="0.52267" stop-color="#d8b0f0"/><stop offset="0.53733" stop-color="#d8b0f0"/><stop offset="0.53733" stop-color="#2e6040"/><stop offset="0.54733" stop-color="#2e6040"/><stop offset="0.54733" stop-color="#d4e42c"/><stop offset="0.55933" stop-color="#d4e42c"/><stop offset="0.55933" stop-color="#e86422"/><stop offset="0.58000" stop-color="#e86422"/><stop offset="0.58000" stop-color="#541414"/><stop offset="0.59800" stop-color="#541414"/><stop offset="0.59800" stop-color="#42a032"/><stop offset="0.61000" stop-color="#42a032"/><stop offset="0.61000" stop-color="#64d8f0"/><stop offset="0.62800" stop-color="#64d8f0"/><stop offset="0.62800" stop-color="#3c8c80"/><stop offset="0.64600" stop-color="#3c8c80"/><stop offset="0.64600" stop-color="#323c80"/><stop offset="0.68267" stop-color="#323c80"/><stop offset="0.68267" stop-color="#4ae492"/><stop offset="0.69467" stop-color="#4ae492"/><stop offset="0.69467" stop-color="#e682c0"/><stop offset="0.71867" stop-color="#e682c0"/><stop offset="0.71867" stop-color="#d6d488"/><stop offset="0.73467" stop-color="#d6d488"/><stop offset="0.73467" stop-color="#c87ede"/><stop offset="0.75533" stop-color="#c87ede"/><stop offset="0.75533" stop-color="#52a86e"/><stop offset="0.76733" stop-color="#52a86e"/><stop offset="0.76733" stop-color="#62dccc"/><stop offset="0.81267" stop-color="#62dccc"/><stop offset="0.81267" stop-color="#e8a230"/><stop offset="0.83533" stop-color="#e8a230"/><stop offset="0.83533" stop-color="#6668de"/><stop offset="0.87467" stop-color="#6668de"/><stop offset="0.87467" stop-color="#78b4dc"/><stop offset="0.94533" stop-color="#78b4dc"/><stop offset="0.94533" stop-color="#e2429a"/><stop offset="1.00000" stop-color="#e2429a"/></linearGradient><linearGradient id="g21" x1="0" y1="0" x2="0" y2="1"><stop offset="0.00000" stop-color="#614a99"/><stop offset="0.36000" stop-color="#614a99"/><stop offset="0.36000" stop-color="#60ee40"/><stop offset="0.37000" stop-color="#60ee40"/><stop offset="0.37000" stop-color="#e05050"/><stop offset="0.37867" stop-color="#e05050"/><stop offset="0.37867" stop-color="#8c2020"/><stop offset="0.39067" stop-color="#8c2020"/><stop offset="0.39067" stop-color="#2e7020"/><stop offset="0.40133" stop-color="#2e7020"/><stop offset="0.40133" stop-color="#f0b8c0"/><stop offset="0.42000" stop-color="#f0b8c0"/><stop offset="0.42000" stop-color="#904e20"/><stop offset="0.43067" stop-color="#904e20"/><stop offset="0.43067" stop-color="#d0dcdc"/><stop offset="0.44067" stop-color="#d0dcdc"/><stop offset="0.44067" stop-color="#4090a8"/><stop offset="0.45133" stop-color="#4090a8"/><stop offset="0.45133" stop-color="#e040ee"/><stop offset="0.46667" stop-color="#e040ee"/><stop offset="0.46667" stop-color="#50405e"/><stop offset="0.47667" stop-color="#50405e"/><stop offset="0.47667" stop-color="#8a6a22"/><stop offset="0.48933" stop-color="#8a6a22"/><stop offset="0.48933" stop-color="#d8b0f0"/><stop offset="0.50267" stop-color="#d8b0f0"/><stop offset="0.50267" stop-color="#2e6040"/><stop offset="0.51533" stop-color="#2e6040"/><stop offset="0.51533" stop-color="#d4e42c"/><stop offset="0.53400" stop-color="#d4e42c"/><stop offset="0.53400" stop-color="#e86422"/><stop offset="0.54400" stop-color="#e86422"/><stop offset="0.54400" stop-color="#541414"/><stop offset="0.56000" stop-color="#541414"/><stop offset="0.56000" stop-color="#42a032"/><stop offset="0.57333" stop-color="#42a032"/><stop offset="0.57333" stop-color="#64d8f0"/><stop offset="0.59400" stop-color="#64d8f0"/><stop offset="0.59400" stop-color="#3c8c80"/><stop offset="0.61133" stop-color="#3c8c80"/><stop offset="0.61133" stop-color="#323c80"/><stop offset="0.64667" stop-color="#323c80"/><stop offset="0.64667" stop-color="#4ae492"/><stop offset="0.66467" stop-color="#4ae492"/><stop offset="0.66467" stop-color="#e682c0"/><stop offset="0.69133" stop-color="#e682c0"/><stop offset="0.69133" stop-color="#d6d488"/><stop offset="0.71400" stop-color="#d6d488"/><stop offset="0.71400" stop-color="#c87ede"/><stop offset="0.75067" stop-color="#c87ede"/><stop offset="0.75067" stop-color="#52a86e"/><stop offset="0.76600" stop-color="#52a86e"/><stop offset="0.76600" stop-color="#62dccc"/><stop offset="0.79200" stop-color="#62dccc"/><stop offset="0.79200" stop-color="#e8a230"/><stop offset="0.80733" stop-color="#e8a230"/><stop offset="0.80733" stop-color="#6668de"/><stop offset="0.85600" stop-color="#6668de"/><stop offset="0.85600" stop-color="#78b4dc"/><stop offset="0.93133" stop-color="#78b4dc"/><stop offset="0.93133" stop-color="#e2429a"/><stop offset="1.00000" stop-color="#e2429a"/></linearGradient><linearGradient id="g22" x1="0" y1="0" x2="0" y2="1"><stop offset="0.00000" stop-color="#614a99"/><stop offset="0.39000" stop-color="#614a99"/><stop offset="0.39000" stop-color="#60ee40"/><stop offset="0.40067" stop-color="#60ee40"/><stop offset="0.40067" stop-color="#e05050"/><stop offset="0.41200" stop-color="#e05050"/><stop offset="0.41200" stop-color="#8c2020"/><stop offset="0.42533" stop-color="#8c2020"/><stop offset="0.42533" stop-color="#2e7020"/><stop offset="0.43867" stop-color="#2e7020"/><stop offset="0.43867" stop-color="#f0b8c0"/><stop offset="0.45133" stop-color="#f0b8c0"/><stop offset="0.45133" stop-color="#904e20"/><stop offset="0.46133" stop-color="#904e20"/><stop offset="0.46133" stop-color="#d0dcdc"/><stop offset="0.47667" stop-color="#d0dcdc"/><stop offset="0.47667" stop-color="#4090a8"/><stop offset="0.48733" stop-color="#4090a8"/><stop offset="0.48733" stop-color="#e040ee"/><stop offset="0.49733" stop-color="#e040ee"/><stop offset="0.49733" stop-color="#8a6a22"/><stop offset="0.51133" stop-color="#8a6a22"/><stop offset="0.51133" stop-color="#d8b0f0"/><stop offset="0.52333" stop-color="#d8b0f0"/><stop offset="0.52333" stop-color="#2e6040"/><stop offset="0.53933" stop-color="#2e6040"/><stop offset="0.53933" stop-color="#d4e42c"/><stop offset="0.55467" stop-color="#d4e42c"/><stop offset="0.55467" stop-color="#e86422"/><stop offset="0.56667" stop-color="#e86422"/><stop offset="0.56667" stop-color="#541414"/><stop offset="0.59067" stop-color="#541414"/><stop offset="0.59067" stop-color="#42a032"/><stop offset="0.60600" stop-color="#42a032"/><stop offset="0.60600" stop-color="#64d8f0"/><stop offset="0.62200" stop-color="#64d8f0"/><stop offset="0.62200" stop-color="#3c8c80"/><stop offset="0.63667" stop-color="#3c8c80"/><stop offset="0.63667" stop-color="#323c80"/><stop offset="0.67467" stop-color="#323c80"/><stop offset="0.67467" stop-color="#4ae492"/><stop offset="0.69333" stop-color="#4ae492"/><stop offset="0.69333" stop-color="#e682c0"/><stop offset="0.71933" stop-color="#e682c0"/><stop offset="0.71933" stop-color="#d6d488"/><stop offset="0.73667" stop-color="#d6d488"/><stop offset="0.73667" stop-color="#c87ede"/><stop offset="0.76067" stop-color="#c87ede"/><stop offset="0.76067" stop-color="#52a86e"/><stop offset="0.76600" stop-color="#52a86e"/><stop offset="0.76600" stop-color="#62dccc"/><stop offset="0.79200" stop-color="#62dccc"/><stop offset="0.79200" stop-color="#e8a230"/><stop offset="0.80733" stop-color="#e8a230"/><stop offset="0.80733" stop-color="#6668de"/><stop offset="0.84867" stop-color="#6668de"/><stop offset="0.84867" stop-color="#78b4dc"/><stop offset="0.92133" stop-color="#78b4dc"/><stop offset="0.92133" stop-color="#e2429a"/><stop offset="1.00000" stop-color="#e2429a"/></linearGradient><linearGradient id="g23" x1="0" y1="0" x2="0" y2="1"><stop offset="0.00000" stop-color="#614a99"/><stop offset="0.41267" stop-color="#614a99"/><stop offset="0.41267" stop-color="#60ee40"/><stop offset="0.42333" stop-color="#60ee40"/><stop offset="0.42333" stop-color="#e05050"/><stop offset="0.43000" stop-color="#e05050"/><stop offset="0.43000" stop-color="#8c2020"/><stop offset="0.44600" stop-color="#8c2020"/><stop offset="0.44600" stop-color="#2e7020"/><stop offset="0.45933" stop-color="#2e7020"/><stop offset="0.45933" stop-color="#f0b8c0"/><stop offset="0.47200" stop-color="#f0b8c0"/><stop offset="0.47200" stop-color="#904e20"/><stop offset="0.48200" stop-color="#904e20"/><stop offset="0.48200" stop-color="#4090a8"/><stop offset="0.49267" stop-color="#4090a8"/><stop offset="0.49267" stop-color="#e040ee"/><stop offset="0.50267" stop-color="#e040ee"/><stop offset="0.50267" stop-color="#8a6a22"/><stop offset="0.51533" stop-color="#8a6a22"/><stop offset="0.51533" stop-color="#d8b0f0"/><stop offset="0.52867" stop-color="#d8b0f0"/><stop offset="0.52867" stop-color="#2e6040"/><stop offset="0.54400" stop-color="#2e6040"/><stop offset="0.54400" stop-color="#d4e42c"/><stop offset="0.56000" stop-color="#d4e42c"/><stop offset="0.56000" stop-color="#e86422"/><stop offset="0.57333" stop-color="#e86422"/><stop offset="0.57333" stop-color="#50405e"/><stop offset="0.58533" stop-color="#50405e"/><stop offset="0.58533" stop-color="#541414"/><stop offset="0.60867" stop-color="#541414"/><stop offset="0.60867" stop-color="#42a032"/><stop offset="0.62733" stop-color="#42a032"/><stop offset="0.62733" stop-color="#64d8f0"/><stop offset="0.63667" stop-color="#64d8f0"/><stop offset="0.63667" stop-color="#3c8c80"/><stop offset="0.65200" stop-color="#3c8c80"/><stop offset="0.65200" stop-color="#323c80"/><stop offset="0.68333" stop-color="#323c80"/><stop offset="0.68333" stop-color="#4ae492"/><stop offset="0.70200" stop-color="#4ae492"/><stop offset="0.70200" stop-color="#e682c0"/><stop offset="0.72667" stop-color="#e682c0"/><stop offset="0.72667" stop-color="#d6d488"/><stop offset="0.75067" stop-color="#d6d488"/><stop offset="0.75067" stop-color="#c87ede"/><stop offset="0.78133" stop-color="#c87ede"/><stop offset="0.78133" stop-color="#52a86e"/><stop offset="0.79733" stop-color="#52a86e"/><stop offset="0.79733" stop-color="#62dccc"/><stop offset="0.81067" stop-color="#62dccc"/><stop offset="0.81067" stop-color="#e8a230"/><stop offset="0.82267" stop-color="#e8a230"/><stop offset="0.82267" stop-color="#6668de"/><stop offset="0.85400" stop-color="#6668de"/><stop offset="0.85400" stop-color="#78b4dc"/><stop offset="0.92667" stop-color="#78b4dc"/><stop offset="0.92667" stop-color="#e2429a"/><stop offset="1.00000" stop-color="#e2429a"/></linearGradient><linearGradient id="g24" x1="0" y1="0" x2="1" y2="0"><stop offset="0.00000" stop-color="#e2429a"/><stop offset="0.06940" stop-color="#e2429a"/><stop offset="0.06940" stop-color="#78b4dc"/><stop offset="0.11356" stop-color="#78b4dc"/><stop offset="0.11356" stop-color="#6668de"/><stop offset="0.14432" stop-color="#6668de"/><stop offset="0.14432" stop-color="#e8a230"/><stop offset="0.16483" stop-color="#e8a230"/><stop offset="0.16483" stop-color="#62dccc"/><stop offset="0.18454" stop-color="#62dccc"/><stop offset="0.18454" stop-color="#52a86e"/><stop offset="0.21293" stop-color="#52a86e"/><stop offset="0.21293" stop-color="#c87ede"/><stop offset="0.22455" stop-color="#c87ede"/><stop offset="0.22455" stop-color="#d6d488"/><stop offset="0.24702" stop-color="#d6d488"/><stop offset="0.24702" stop-color="#e682c0"/><stop offset="0.26638" stop-color="#e682c0"/><stop offset="0.26638" stop-color="#4ae492"/><stop offset="0.28032" stop-color="#4ae492"/><stop offset="0.28032" stop-color="#323c80"/><stop offset="0.29969" stop-color="#323c80"/><stop offset="0.29969" stop-color="#3c8c80"/><stop offset="0.31983" stop-color="#3c8c80"/><stop offset="0.31983" stop-color="#64d8f0"/><stop offset="0.33145" stop-color="#64d8f0"/><stop offset="0.33145" stop-color="#42a032"/><stop offset="0.34229" stop-color="#42a032"/><stop offset="0.34229" stop-color="#541414"/><stop offset="0.35933" stop-color="#541414"/><stop offset="0.35933" stop-color="#e86422"/><stop offset="0.37095" stop-color="#e86422"/><stop offset="0.37095" stop-color="#d4e42c"/><stop offset="0.38567" stop-color="#d4e42c"/><stop offset="0.38567" stop-color="#2e6040"/><stop offset="0.39651" stop-color="#2e6040"/><stop offset="0.39651" stop-color="#d8b0f0"/><stop offset="0.40813" stop-color="#d8b0f0"/><stop offset="0.40813" stop-color="#8a6a22"/><stop offset="0.42750" stop-color="#8a6a22"/><stop offset="0.42750" stop-color="#50405e"/><stop offset="0.43912" stop-color="#50405e"/><stop offset="0.43912" stop-color="#e040ee"/><stop offset="0.45073" stop-color="#e040ee"/><stop offset="0.45073" stop-color="#4090a8"/><stop offset="0.46235" stop-color="#4090a8"/><stop offset="0.46235" stop-color="#d0dcdc"/><stop offset="0.46855" stop-color="#d0dcdc"/><stop offset="0.46855" stop-color="#904e20"/><stop offset="0.48017" stop-color="#904e20"/><stop offset="0.48017" stop-color="#f0b8c0"/><stop offset="0.48637" stop-color="#f0b8c0"/><stop offset="0.48637" stop-color="#2e7020"/><stop offset="0.49256" stop-color="#2e7020"/><stop offset="0.49256" stop-color="#8c2020"/><stop offset="0.50418" stop-color="#8c2020"/><stop offset="0.50418" stop-color="#e05050"/><stop offset="0.51038" stop-color="#e05050"/><stop offset="0.51038" stop-color="#60ee40"/><stop offset="0.51735" stop-color="#60ee40"/><stop offset="0.51735" stop-color="#614a99"/><stop offset="1.00000" stop-color="#614a99"/></linearGradient><linearGradient id="g25" x1="0" y1="0" x2="1" y2="0"><stop offset="0.00000" stop-color="#e2429a"/><stop offset="0.05836" stop-color="#e2429a"/><stop offset="0.05836" stop-color="#78b4dc"/><stop offset="0.11593" stop-color="#78b4dc"/><stop offset="0.11593" stop-color="#6668de"/><stop offset="0.13880" stop-color="#6668de"/><stop offset="0.13880" stop-color="#e8a230"/><stop offset="0.16167" stop-color="#e8a230"/><stop offset="0.16167" stop-color="#62dccc"/><stop offset="0.18691" stop-color="#62dccc"/><stop offset="0.18691" stop-color="#52a86e"/><stop offset="0.21293" stop-color="#52a86e"/><stop offset="0.21293" stop-color="#c87ede"/><stop offset="0.22431" stop-color="#c87ede"/><stop offset="0.22431" stop-color="#d6d488"/><stop offset="0.24631" stop-color="#d6d488"/><stop offset="0.24631" stop-color="#e682c0"/><stop offset="0.26527" stop-color="#e682c0"/><stop offset="0.26527" stop-color="#4ae492"/><stop offset="0.27893" stop-color="#4ae492"/><stop offset="0.27893" stop-color="#323c80"/><stop offset="0.29789" stop-color="#323c80"/><stop offset="0.29789" stop-color="#3c8c80"/><stop offset="0.31761" stop-color="#3c8c80"/><stop offset="0.31761" stop-color="#64d8f0"/><stop offset="0.32899" stop-color="#64d8f0"/><stop offset="0.32899" stop-color="#42a032"/><stop offset="0.33961" stop-color="#42a032"/><stop offset="0.33961" stop-color="#541414"/><stop offset="0.35630" stop-color="#541414"/><stop offset="0.35630" stop-color="#e86422"/><stop offset="0.36768" stop-color="#e86422"/><stop offset="0.36768" stop-color="#d4e42c"/><stop offset="0.38209" stop-color="#d4e42c"/><stop offset="0.38209" stop-color="#2e6040"/><stop offset="0.39271" stop-color="#2e6040"/><stop offset="0.39271" stop-color="#d8b0f0"/><stop offset="0.40409" stop-color="#d8b0f0"/><stop offset="0.40409" stop-color="#8a6a22"/><stop offset="0.42305" stop-color="#8a6a22"/><stop offset="0.42305" stop-color="#50405e"/><stop offset="0.43443" stop-color="#50405e"/><stop offset="0.43443" stop-color="#e040ee"/><stop offset="0.44581" stop-color="#e040ee"/><stop offset="0.44581" stop-color="#4090a8"/><stop offset="0.45718" stop-color="#4090a8"/><stop offset="0.45718" stop-color="#d0dcdc"/><stop offset="0.46325" stop-color="#d0dcdc"/><stop offset="0.46325" stop-color="#904e20"/><stop offset="0.47463" stop-color="#904e20"/><stop offset="0.47463" stop-color="#f0b8c0"/><stop offset="0.48070" stop-color="#f0b8c0"/><stop offset="0.48070" stop-color="#2e7020"/><stop offset="0.48677" stop-color="#2e7020"/><stop offset="0.48677" stop-color="#8c2020"/><stop offset="0.49815" stop-color="#8c2020"/><stop offset="0.49815" stop-color="#e05050"/><stop offset="0.50421" stop-color="#e05050"/><stop offset="0.50421" stop-color="#60ee40"/><stop offset="0.51104" stop-color="#60ee40"/><stop offset="0.51104" stop-color="#614a99"/><stop offset="1.00000" stop-color="#614a99"/></linearGradient><linearGradient id="g26" x1="0" y1="0" x2="1" y2="0"><stop offset="0.00000" stop-color="#e2429a"/><stop offset="0.06073" stop-color="#e2429a"/><stop offset="0.06073" stop-color="#78b4dc"/><stop offset="0.13249" stop-color="#78b4dc"/><stop offset="0.13249" stop-color="#6668de"/><stop offset="0.15536" stop-color="#6668de"/><stop offset="0.15536" stop-color="#e8a230"/><stop offset="0.17902" stop-color="#e8a230"/><stop offset="0.17902" stop-color="#62dccc"/><stop offset="0.20189" stop-color="#62dccc"/><stop offset="0.20189" stop-color="#52a86e"/><stop offset="0.21924" stop-color="#52a86e"/><stop offset="0.21924" stop-color="#c87ede"/><stop offset="0.23038" stop-color="#c87ede"/><stop offset="0.23038" stop-color="#d6d488"/><stop offset="0.25191" stop-color="#d6d488"/><stop offset="0.25191" stop-color="#e682c0"/><stop offset="0.27047" stop-color="#e682c0"/><stop offset="0.27047" stop-color="#4ae492"/><stop offset="0.28384" stop-color="#4ae492"/><stop offset="0.28384" stop-color="#323c80"/><stop offset="0.30240" stop-color="#323c80"/><stop offset="0.30240" stop-color="#3c8c80"/><stop offset="0.32171" stop-color="#3c8c80"/><stop offset="0.32171" stop-color="#64d8f0"/><stop offset="0.33284" stop-color="#64d8f0"/><stop offset="0.33284" stop-color="#42a032"/><stop offset="0.34324" stop-color="#42a032"/><stop offset="0.34324" stop-color="#541414"/><stop offset="0.35957" stop-color="#541414"/><stop offset="0.35957" stop-color="#e86422"/><stop offset="0.37071" stop-color="#e86422"/><stop offset="0.37071" stop-color="#d4e42c"/><stop offset="0.38482" stop-color="#d4e42c"/><stop offset="0.38482" stop-color="#2e6040"/><stop offset="0.39521" stop-color="#2e6040"/><stop offset="0.39521" stop-color="#d8b0f0"/><stop offset="0.40635" stop-color="#d8b0f0"/><stop offset="0.40635" stop-color="#8a6a22"/><stop offset="0.42491" stop-color="#8a6a22"/><stop offset="0.42491" stop-color="#50405e"/><stop offset="0.43605" stop-color="#50405e"/><stop offset="0.43605" stop-color="#e040ee"/><stop offset="0.44719" stop-color="#e040ee"/><stop offset="0.44719" stop-color="#4090a8"/><stop offset="0.45832" stop-color="#4090a8"/><stop offset="0.45832" stop-color="#d0dcdc"/><stop offset="0.46426" stop-color="#d0dcdc"/><stop offset="0.46426" stop-color="#904e20"/><stop offset="0.47540" stop-color="#904e20"/><stop offset="0.47540" stop-color="#f0b8c0"/><stop offset="0.48134" stop-color="#f0b8c0"/><stop offset="0.48134" stop-color="#2e7020"/><stop offset="0.48728" stop-color="#2e7020"/><stop offset="0.48728" stop-color="#8c2020"/><stop offset="0.49842" stop-color="#8c2020"/><stop offset="0.49842" stop-color="#e05050"/><stop offset="0.50436" stop-color="#e05050"/><stop offset="0.50436" stop-color="#60ee40"/><stop offset="0.51104" stop-color="#60ee40"/><stop offset="0.51104" stop-color="#614a99"/><stop offset="1.00000" stop-color="#614a99"/></linearGradient><linearGradient id="g27" x1="0" y1="0" x2="1" y2="0"><stop offset="0.00000" stop-color="#e2429a"/><stop offset="0.05599" stop-color="#e2429a"/><stop offset="0.05599" stop-color="#78b4dc"/><stop offset="0.07571" stop-color="#78b4dc"/><stop offset="0.07571" stop-color="#6668de"/><stop offset="0.10647" stop-color="#6668de"/><stop offset="0.10647" stop-color="#e8a230"/><stop offset="0.12934" stop-color="#e8a230"/><stop offset="0.12934" stop-color="#62dccc"/><stop offset="0.14984" stop-color="#62dccc"/><stop offset="0.14984" stop-color="#52a86e"/><stop offset="0.17508" stop-color="#52a86e"/><stop offset="0.17508" stop-color="#c87ede"/><stop offset="0.18616" stop-color="#c87ede"/><stop offset="0.18616" stop-color="#d6d488"/><stop offset="0.20757" stop-color="#d6d488"/><stop offset="0.20757" stop-color="#e682c0"/><stop offset="0.22603" stop-color="#e682c0"/><stop offset="0.22603" stop-color="#4ae492"/><stop offset="0.23933" stop-color="#4ae492"/><stop offset="0.23933" stop-color="#323c80"/><stop offset="0.25779" stop-color="#323c80"/><stop offset="0.25779" stop-color="#3c8c80"/><stop offset="0.27699" stop-color="#3c8c80"/><stop offset="0.27699" stop-color="#64d8f0"/><stop offset="0.28807" stop-color="#64d8f0"/><stop offset="0.28807" stop-color="#42a032"/><stop offset="0.29840" stop-color="#42a032"/><stop offset="0.29840" stop-color="#541414"/><stop offset="0.31465" stop-color="#541414"/><stop offset="0.31465" stop-color="#e86422"/><stop offset="0.32573" stop-color="#e86422"/><stop offset="0.32573" stop-color="#d4e42c"/><stop offset="0.33976" stop-color="#d4e42c"/><stop offset="0.33976" stop-color="#2e6040"/><stop offset="0.35010" stop-color="#2e6040"/><stop offset="0.35010" stop-color="#d8b0f0"/><stop offset="0.36117" stop-color="#d8b0f0"/><stop offset="0.36117" stop-color="#8a6a22"/><stop offset="0.37964" stop-color="#8a6a22"/><stop offset="0.37964" stop-color="#50405e"/><stop offset="0.39071" stop-color="#50405e"/><stop offset="0.39071" stop-color="#e040ee"/><stop offset="0.40179" stop-color="#e040ee"/><stop offset="0.40179" stop-color="#4090a8"/><stop offset="0.41287" stop-color="#4090a8"/><stop offset="0.41287" stop-color="#d0dcdc"/><stop offset="0.41878" stop-color="#d0dcdc"/><stop offset="0.41878" stop-color="#904e20"/><stop offset="0.42985" stop-color="#904e20"/><stop offset="0.42985" stop-color="#f0b8c0"/><stop offset="0.43576" stop-color="#f0b8c0"/><stop offset="0.43576" stop-color="#2e7020"/><stop offset="0.44167" stop-color="#2e7020"/><stop offset="0.44167" stop-color="#8c2020"/><stop offset="0.45275" stop-color="#8c2020"/><stop offset="0.45275" stop-color="#e05050"/><stop offset="0.45865" stop-color="#e05050"/><stop offset="0.45865" stop-color="#60ee40"/><stop offset="0.46530" stop-color="#60ee40"/><stop offset="0.46530" stop-color="#614a99"/><stop offset="1.00000" stop-color="#614a99"/></linearGradient><linearGradient id="g28" x1="0" y1="0" x2="1" y2="0"><stop offset="0.00000" stop-color="#e2429a"/><stop offset="0.05599" stop-color="#e2429a"/><stop offset="0.05599" stop-color="#78b4dc"/><stop offset="0.08123" stop-color="#78b4dc"/><stop offset="0.08123" stop-color="#6668de"/><stop offset="0.10962" stop-color="#6668de"/><stop offset="0.10962" stop-color="#e8a230"/><stop offset="0.13249" stop-color="#e8a230"/><stop offset="0.13249" stop-color="#62dccc"/><stop offset="0.15536" stop-color="#62dccc"/><stop offset="0.15536" stop-color="#52a86e"/><stop offset="0.17823" stop-color="#52a86e"/><stop offset="0.17823" stop-color="#c87ede"/><stop offset="0.18985" stop-color="#c87ede"/><stop offset="0.18985" stop-color="#d6d488"/><stop offset="0.21232" stop-color="#d6d488"/><stop offset="0.21232" stop-color="#e682c0"/><stop offset="0.23168" stop-color="#e682c0"/><stop offset="0.23168" stop-color="#4ae492"/><stop offset="0.24562" stop-color="#4ae492"/><stop offset="0.24562" stop-color="#323c80"/><stop offset="0.26499" stop-color="#323c80"/><stop offset="0.26499" stop-color="#3c8c80"/><stop offset="0.28513" stop-color="#3c8c80"/><stop offset="0.28513" stop-color="#64d8f0"/><stop offset="0.29675" stop-color="#64d8f0"/><stop offset="0.29675" stop-color="#42a032"/><stop offset="0.30759" stop-color="#42a032"/><stop offset="0.30759" stop-color="#541414"/><stop offset="0.32463" stop-color="#541414"/><stop offset="0.32463" stop-color="#e86422"/><stop offset="0.33625" stop-color="#e86422"/><stop offset="0.33625" stop-color="#d4e42c"/><stop offset="0.35097" stop-color="#d4e42c"/><stop offset="0.35097" stop-color="#2e6040"/><stop offset="0.36181" stop-color="#2e6040"/><stop offset="0.36181" stop-color="#d8b0f0"/><stop offset="0.37343" stop-color="#d8b0f0"/><stop offset="0.37343" stop-color="#8a6a22"/><stop offset="0.39280" stop-color="#8a6a22"/><stop offset="0.39280" stop-color="#50405e"/><stop offset="0.40442" stop-color="#50405e"/><stop offset="0.40442" stop-color="#e040ee"/><stop offset="0.41603" stop-color="#e040ee"/><stop offset="0.41603" stop-color="#4090a8"/><stop offset="0.42765" stop-color="#4090a8"/><stop offset="0.42765" stop-color="#d0dcdc"/><stop offset="0.43385" stop-color="#d0dcdc"/><stop offset="0.43385" stop-color="#904e20"/><stop offset="0.44547" stop-color="#904e20"/><stop offset="0.44547" stop-color="#f0b8c0"/><stop offset="0.45167" stop-color="#f0b8c0"/><stop offset="0.45167" stop-color="#2e7020"/><stop offset="0.45786" stop-color="#2e7020"/><stop offset="0.45786" stop-color="#8c2020"/><stop offset="0.46948" stop-color="#8c2020"/><stop offset="0.46948" stop-color="#e05050"/><stop offset="0.47568" stop-color="#e05050"/><stop offset="0.47568" stop-color="#60ee40"/><stop offset="0.48265" stop-color="#60ee40"/><stop offset="0.48265" stop-color="#614a99"/><stop offset="1.00000" stop-color="#614a99"/></linearGradient><linearGradient id="g29" x1="0" y1="0" x2="1" y2="0"><stop offset="0.00000" stop-color="#e2429a"/><stop offset="0.09227" stop-color="#e2429a"/><stop offset="0.09227" stop-color="#78b4dc"/><stop offset="0.11356" stop-color="#78b4dc"/><stop offset="0.11356" stop-color="#6668de"/><stop offset="0.14748" stop-color="#6668de"/><stop offset="0.14748" stop-color="#e8a230"/><stop offset="0.16719" stop-color="#e8a230"/><stop offset="0.16719" stop-color="#62dccc"/><stop offset="0.19006" stop-color="#62dccc"/><stop offset="0.19006" stop-color="#52a86e"/><stop offset="0.21293" stop-color="#52a86e"/><stop offset="0.21293" stop-color="#c87ede"/><stop offset="0.22543" stop-color="#c87ede"/><stop offset="0.22543" stop-color="#d6d488"/><stop offset="0.24958" stop-color="#d6d488"/><stop offset="0.24958" stop-color="#e682c0"/><stop offset="0.27040" stop-color="#e682c0"/><stop offset="0.27040" stop-color="#4ae492"/><stop offset="0.28539" stop-color="#4ae492"/><stop offset="0.28539" stop-color="#323c80"/><stop offset="0.30621" stop-color="#323c80"/><stop offset="0.30621" stop-color="#3c8c80"/><stop offset="0.32786" stop-color="#3c8c80"/><stop offset="0.32786" stop-color="#64d8f0"/><stop offset="0.34035" stop-color="#64d8f0"/><stop offset="0.34035" stop-color="#42a032"/><stop offset="0.35201" stop-color="#42a032"/><stop offset="0.35201" stop-color="#541414"/><stop offset="0.37033" stop-color="#541414"/><stop offset="0.37033" stop-color="#e86422"/><stop offset="0.38282" stop-color="#e86422"/><stop offset="0.38282" stop-color="#d4e42c"/><stop offset="0.39865" stop-color="#d4e42c"/><stop offset="0.39865" stop-color="#2e6040"/><stop offset="0.41031" stop-color="#2e6040"/><stop offset="0.41031" stop-color="#d8b0f0"/><stop offset="0.42280" stop-color="#d8b0f0"/><stop offset="0.42280" stop-color="#8a6a22"/><stop offset="0.44362" stop-color="#8a6a22"/><stop offset="0.44362" stop-color="#50405e"/><stop offset="0.45611" stop-color="#50405e"/><stop offset="0.45611" stop-color="#e040ee"/><stop offset="0.46860" stop-color="#e040ee"/><stop offset="0.46860" stop-color="#4090a8"/><stop offset="0.48109" stop-color="#4090a8"/><stop offset="0.48109" stop-color="#d0dcdc"/><stop offset="0.48775" stop-color="#d0dcdc"/><stop offset="0.48775" stop-color="#904e20"/><stop offset="0.50025" stop-color="#904e20"/><stop offset="0.50025" stop-color="#f0b8c0"/><stop offset="0.50691" stop-color="#f0b8c0"/><stop offset="0.50691" stop-color="#2e7020"/><stop offset="0.51357" stop-color="#2e7020"/><stop offset="0.51357" stop-color="#8c2020"/><stop offset="0.52606" stop-color="#8c2020"/><stop offset="0.52606" stop-color="#e05050"/><stop offset="0.53273" stop-color="#e05050"/><stop offset="0.53273" stop-color="#60ee40"/><stop offset="0.54022" stop-color="#60ee40"/><stop offset="0.54022" stop-color="#614a99"/><stop offset="1.00000" stop-color="#614a99"/></linearGradient><linearGradient id="g30" x1="0" y1="0" x2="1" y2="0"><stop offset="0.00000" stop-color="#e2429a"/><stop offset="0.08360" stop-color="#e2429a"/><stop offset="0.08360" stop-color="#78b4dc"/><stop offset="0.10174" stop-color="#78b4dc"/><stop offset="0.10174" stop-color="#6668de"/><stop offset="0.13880" stop-color="#6668de"/><stop offset="0.13880" stop-color="#e8a230"/><stop offset="0.15931" stop-color="#e8a230"/><stop offset="0.15931" stop-color="#62dccc"/><stop offset="0.17508" stop-color="#62dccc"/><stop offset="0.17508" stop-color="#52a86e"/><stop offset="0.20741" stop-color="#52a86e"/><stop offset="0.20741" stop-color="#c87ede"/><stop offset="0.22003" stop-color="#c87ede"/><stop offset="0.22003" stop-color="#d6d488"/><stop offset="0.24441" stop-color="#d6d488"/><stop offset="0.24441" stop-color="#e682c0"/><stop offset="0.26543" stop-color="#e682c0"/><stop offset="0.26543" stop-color="#4ae492"/><stop offset="0.28056" stop-color="#4ae492"/><stop offset="0.28056" stop-color="#323c80"/><stop offset="0.30158" stop-color="#323c80"/><stop offset="0.30158" stop-color="#3c8c80"/><stop offset="0.32345" stop-color="#3c8c80"/><stop offset="0.32345" stop-color="#64d8f0"/><stop offset="0.33606" stop-color="#64d8f0"/><stop offset="0.33606" stop-color="#42a032"/><stop offset="0.34783" stop-color="#42a032"/><stop offset="0.34783" stop-color="#541414"/><stop offset="0.36633" stop-color="#541414"/><stop offset="0.36633" stop-color="#e86422"/><stop offset="0.37894" stop-color="#e86422"/><stop offset="0.37894" stop-color="#d4e42c"/><stop offset="0.39492" stop-color="#d4e42c"/><stop offset="0.39492" stop-color="#2e6040"/><stop offset="0.40669" stop-color="#2e6040"/><stop offset="0.40669" stop-color="#d8b0f0"/><stop offset="0.41930" stop-color="#d8b0f0"/><stop offset="0.41930" stop-color="#8a6a22"/><stop offset="0.44032" stop-color="#8a6a22"/><stop offset="0.44032" stop-color="#50405e"/><stop offset="0.45293" stop-color="#50405e"/><stop offset="0.45293" stop-color="#e040ee"/><stop offset="0.46554" stop-color="#e040ee"/><stop offset="0.46554" stop-color="#4090a8"/><stop offset="0.47816" stop-color="#4090a8"/><stop offset="0.47816" stop-color="#d0dcdc"/><stop offset="0.48488" stop-color="#d0dcdc"/><stop offset="0.48488" stop-color="#904e20"/><stop offset="0.49750" stop-color="#904e20"/><stop offset="0.49750" stop-color="#f0b8c0"/><stop offset="0.50422" stop-color="#f0b8c0"/><stop offset="0.50422" stop-color="#2e7020"/><stop offset="0.51095" stop-color="#2e7020"/><stop offset="0.51095" stop-color="#8c2020"/><stop offset="0.52356" stop-color="#8c2020"/><stop offset="0.52356" stop-color="#e05050"/><stop offset="0.53029" stop-color="#e05050"/><stop offset="0.53029" stop-color="#60ee40"/><stop offset="0.53785" stop-color="#60ee40"/><stop offset="0.53785" stop-color="#614a99"/><stop offset="1.00000" stop-color="#614a99"/></linearGradient><linearGradient id="g31" x1="0" y1="0" x2="1" y2="0"><stop offset="0.00000" stop-color="#e2429a"/><stop offset="0.04890" stop-color="#e2429a"/><stop offset="0.04890" stop-color="#78b4dc"/><stop offset="0.15221" stop-color="#78b4dc"/><stop offset="0.15221" stop-color="#6668de"/><stop offset="0.17902" stop-color="#6668de"/><stop offset="0.17902" stop-color="#e8a230"/><stop offset="0.19558" stop-color="#e8a230"/><stop offset="0.19558" stop-color="#62dccc"/><stop offset="0.22792" stop-color="#62dccc"/><stop offset="0.22792" stop-color="#52a86e"/><stop offset="0.24685" stop-color="#52a86e"/><stop offset="0.24685" stop-color="#c87ede"/><stop offset="0.25672" stop-color="#c87ede"/><stop offset="0.25672" stop-color="#d6d488"/><stop offset="0.27581" stop-color="#d6d488"/><stop offset="0.27581" stop-color="#e682c0"/><stop offset="0.29226" stop-color="#e682c0"/><stop offset="0.29226" stop-color="#4ae492"/><stop offset="0.30411" stop-color="#4ae492"/><stop offset="0.30411" stop-color="#323c80"/><stop offset="0.32056" stop-color="#323c80"/><stop offset="0.32056" stop-color="#3c8c80"/><stop offset="0.33768" stop-color="#3c8c80"/><stop offset="0.33768" stop-color="#64d8f0"/><stop offset="0.34755" stop-color="#64d8f0"/><stop offset="0.34755" stop-color="#42a032"/><stop offset="0.35677" stop-color="#42a032"/><stop offset="0.35677" stop-color="#541414"/><stop offset="0.37125" stop-color="#541414"/><stop offset="0.37125" stop-color="#e86422"/><stop offset="0.38112" stop-color="#e86422"/><stop offset="0.38112" stop-color="#d4e42c"/><stop offset="0.39363" stop-color="#d4e42c"/><stop offset="0.39363" stop-color="#2e6040"/><stop offset="0.40284" stop-color="#2e6040"/><stop offset="0.40284" stop-color="#d8b0f0"/><stop offset="0.41271" stop-color="#d8b0f0"/><stop offset="0.41271" stop-color="#8a6a22"/><stop offset="0.42917" stop-color="#8a6a22"/><stop offset="0.42917" stop-color="#50405e"/><stop offset="0.43904" stop-color="#50405e"/><stop offset="0.43904" stop-color="#e040ee"/><stop offset="0.44891" stop-color="#e040ee"/><stop offset="0.44891" stop-color="#4090a8"/><stop offset="0.45879" stop-color="#4090a8"/><stop offset="0.45879" stop-color="#d0dcdc"/><stop offset="0.46405" stop-color="#d0dcdc"/><stop offset="0.46405" stop-color="#904e20"/><stop offset="0.47393" stop-color="#904e20"/><stop offset="0.47393" stop-color="#f0b8c0"/><stop offset="0.47919" stop-color="#f0b8c0"/><stop offset="0.47919" stop-color="#2e7020"/><stop offset="0.48446" stop-color="#2e7020"/><stop offset="0.48446" stop-color="#8c2020"/><stop offset="0.49433" stop-color="#8c2020"/><stop offset="0.49433" stop-color="#e05050"/><stop offset="0.49960" stop-color="#e05050"/><stop offset="0.49960" stop-color="#60ee40"/><stop offset="0.50552" stop-color="#60ee40"/><stop offset="0.50552" stop-color="#614a99"/><stop offset="1.00000" stop-color="#614a99"/></linearGradient><linearGradient id="g32" x1="0" y1="0" x2="1" y2="0"><stop offset="0.00000" stop-color="#e2429a"/><stop offset="0.02681" stop-color="#e2429a"/><stop offset="0.02681" stop-color="#78b4dc"/><stop offset="0.03628" stop-color="#78b4dc"/><stop offset="0.03628" stop-color="#6668de"/><stop offset="0.05047" stop-color="#6668de"/><stop offset="0.05047" stop-color="#e8a230"/><stop offset="0.06861" stop-color="#e8a230"/><stop offset="0.06861" stop-color="#62dccc"/><stop offset="0.09306" stop-color="#62dccc"/><stop offset="0.09306" stop-color="#52a86e"/><stop offset="0.10568" stop-color="#52a86e"/><stop offset="0.10568" stop-color="#c87ede"/><stop offset="0.11718" stop-color="#c87ede"/><stop offset="0.11718" stop-color="#d6d488"/><stop offset="0.13941" stop-color="#d6d488"/><stop offset="0.13941" stop-color="#e682c0"/><stop offset="0.15857" stop-color="#e682c0"/><stop offset="0.15857" stop-color="#4ae492"/><stop offset="0.17237" stop-color="#4ae492"/><stop offset="0.17237" stop-color="#323c80"/><stop offset="0.19153" stop-color="#323c80"/><stop offset="0.19153" stop-color="#3c8c80"/><stop offset="0.21146" stop-color="#3c8c80"/><stop offset="0.21146" stop-color="#64d8f0"/><stop offset="0.22296" stop-color="#64d8f0"/><stop offset="0.22296" stop-color="#42a032"/><stop offset="0.23370" stop-color="#42a032"/><stop offset="0.23370" stop-color="#541414"/><stop offset="0.25056" stop-color="#541414"/><stop offset="0.25056" stop-color="#e86422"/><stop offset="0.26206" stop-color="#e86422"/><stop offset="0.26206" stop-color="#d4e42c"/><stop offset="0.27662" stop-color="#d4e42c"/><stop offset="0.27662" stop-color="#2e6040"/><stop offset="0.28736" stop-color="#2e6040"/><stop offset="0.28736" stop-color="#d8b0f0"/><stop offset="0.29885" stop-color="#d8b0f0"/><stop offset="0.29885" stop-color="#8a6a22"/><stop offset="0.31802" stop-color="#8a6a22"/><stop offset="0.31802" stop-color="#50405e"/><stop offset="0.32952" stop-color="#50405e"/><stop offset="0.32952" stop-color="#e040ee"/><stop offset="0.34102" stop-color="#e040ee"/><stop offset="0.34102" stop-color="#4090a8"/><stop offset="0.35251" stop-color="#4090a8"/><stop offset="0.35251" stop-color="#d0dcdc"/><stop offset="0.35865" stop-color="#d0dcdc"/><stop offset="0.35865" stop-color="#904e20"/><stop offset="0.37014" stop-color="#904e20"/><stop offset="0.37014" stop-color="#f0b8c0"/><stop offset="0.37628" stop-color="#f0b8c0"/><stop offset="0.37628" stop-color="#2e7020"/><stop offset="0.38241" stop-color="#2e7020"/><stop offset="0.38241" stop-color="#8c2020"/><stop offset="0.39391" stop-color="#8c2020"/><stop offset="0.39391" stop-color="#e05050"/><stop offset="0.40004" stop-color="#e05050"/><stop offset="0.40004" stop-color="#60ee40"/><stop offset="0.40694" stop-color="#60ee40"/><stop offset="0.40694" stop-color="#614a99"/><stop offset="1.00000" stop-color="#614a99"/></linearGradient><linearGradient id="g33" x1="0" y1="0" x2="1" y2="0"><stop offset="0.00000" stop-color="#e2429a"/><stop offset="0.03391" stop-color="#e2429a"/><stop offset="0.03391" stop-color="#78b4dc"/><stop offset="0.04101" stop-color="#78b4dc"/><stop offset="0.04101" stop-color="#6668de"/><stop offset="0.05363" stop-color="#6668de"/><stop offset="0.05363" stop-color="#e8a230"/><stop offset="0.08517" stop-color="#e8a230"/><stop offset="0.08517" stop-color="#62dccc"/><stop offset="0.10568" stop-color="#62dccc"/><stop offset="0.10568" stop-color="#52a86e"/><stop offset="0.12303" stop-color="#52a86e"/><stop offset="0.12303" stop-color="#c87ede"/><stop offset="0.13438" stop-color="#c87ede"/><stop offset="0.13438" stop-color="#d6d488"/><stop offset="0.15632" stop-color="#d6d488"/><stop offset="0.15632" stop-color="#e682c0"/><stop offset="0.17523" stop-color="#e682c0"/><stop offset="0.17523" stop-color="#4ae492"/><stop offset="0.18885" stop-color="#4ae492"/><stop offset="0.18885" stop-color="#323c80"/><stop offset="0.20776" stop-color="#323c80"/><stop offset="0.20776" stop-color="#3c8c80"/><stop offset="0.22743" stop-color="#3c8c80"/><stop offset="0.22743" stop-color="#64d8f0"/><stop offset="0.23878" stop-color="#64d8f0"/><stop offset="0.23878" stop-color="#42a032"/><stop offset="0.24937" stop-color="#42a032"/><stop offset="0.24937" stop-color="#541414"/><stop offset="0.26601" stop-color="#541414"/><stop offset="0.26601" stop-color="#e86422"/><stop offset="0.27736" stop-color="#e86422"/><stop offset="0.27736" stop-color="#d4e42c"/><stop offset="0.29174" stop-color="#d4e42c"/><stop offset="0.29174" stop-color="#2e6040"/><stop offset="0.30233" stop-color="#2e6040"/><stop offset="0.30233" stop-color="#d8b0f0"/><stop offset="0.31368" stop-color="#d8b0f0"/><stop offset="0.31368" stop-color="#8a6a22"/><stop offset="0.33259" stop-color="#8a6a22"/><stop offset="0.33259" stop-color="#50405e"/><stop offset="0.34394" stop-color="#50405e"/><stop offset="0.34394" stop-color="#e040ee"/><stop offset="0.35528" stop-color="#e040ee"/><stop offset="0.35528" stop-color="#4090a8"/><stop offset="0.36663" stop-color="#4090a8"/><stop offset="0.36663" stop-color="#d0dcdc"/><stop offset="0.37269" stop-color="#d0dcdc"/><stop offset="0.37269" stop-color="#904e20"/><stop offset="0.38403" stop-color="#904e20"/><stop offset="0.38403" stop-color="#f0b8c0"/><stop offset="0.39009" stop-color="#f0b8c0"/><stop offset="0.39009" stop-color="#2e7020"/><stop offset="0.39614" stop-color="#2e7020"/><stop offset="0.39614" stop-color="#8c2020"/><stop offset="0.40749" stop-color="#8c2020"/><stop offset="0.40749" stop-color="#e05050"/><stop offset="0.41354" stop-color="#e05050"/><stop offset="0.41354" stop-color="#60ee40"/><stop offset="0.42035" stop-color="#60ee40"/><stop offset="0.42035" stop-color="#614a99"/><stop offset="1.00000" stop-color="#614a99"/></linearGradient><linearGradient id="g34" x1="0" y1="0" x2="1" y2="0"><stop offset="0.00000" stop-color="#e2429a"/><stop offset="0.03628" stop-color="#e2429a"/><stop offset="0.03628" stop-color="#78b4dc"/><stop offset="0.04338" stop-color="#78b4dc"/><stop offset="0.04338" stop-color="#6668de"/><stop offset="0.05678" stop-color="#6668de"/><stop offset="0.05678" stop-color="#e8a230"/><stop offset="0.09227" stop-color="#e8a230"/><stop offset="0.09227" stop-color="#62dccc"/><stop offset="0.11199" stop-color="#62dccc"/><stop offset="0.11199" stop-color="#52a86e"/><stop offset="0.12776" stop-color="#52a86e"/><stop offset="0.12776" stop-color="#c87ede"/><stop offset="0.13959" stop-color="#c87ede"/><stop offset="0.13959" stop-color="#d6d488"/><stop offset="0.16246" stop-color="#d6d488"/><stop offset="0.16246" stop-color="#e682c0"/><stop offset="0.18218" stop-color="#e682c0"/><stop offset="0.18218" stop-color="#4ae492"/><stop offset="0.19637" stop-color="#4ae492"/><stop offset="0.19637" stop-color="#323c80"/><stop offset="0.21609" stop-color="#323c80"/><stop offset="0.21609" stop-color="#3c8c80"/><stop offset="0.23659" stop-color="#3c8c80"/><stop offset="0.23659" stop-color="#64d8f0"/><stop offset="0.24842" stop-color="#64d8f0"/><stop offset="0.24842" stop-color="#42a032"/><stop offset="0.25946" stop-color="#42a032"/><stop offset="0.25946" stop-color="#541414"/><stop offset="0.27681" stop-color="#541414"/><stop offset="0.27681" stop-color="#e86422"/><stop offset="0.28864" stop-color="#e86422"/><stop offset="0.28864" stop-color="#d4e42c"/><stop offset="0.30363" stop-color="#d4e42c"/><stop offset="0.30363" stop-color="#2e6040"/><stop offset="0.31467" stop-color="#2e6040"/><stop offset="0.31467" stop-color="#d8b0f0"/><stop offset="0.32650" stop-color="#d8b0f0"/><stop offset="0.32650" stop-color="#8a6a22"/><stop offset="0.34621" stop-color="#8a6a22"/><stop offset="0.34621" stop-color="#50405e"/><stop offset="0.35804" stop-color="#50405e"/><stop offset="0.35804" stop-color="#e040ee"/><stop offset="0.36987" stop-color="#e040ee"/><stop offset="0.36987" stop-color="#4090a8"/><stop offset="0.38170" stop-color="#4090a8"/><stop offset="0.38170" stop-color="#d0dcdc"/><stop offset="0.38801" stop-color="#d0dcdc"/><stop offset="0.38801" stop-color="#904e20"/><stop offset="0.39984" stop-color="#904e20"/><stop offset="0.39984" stop-color="#f0b8c0"/><stop offset="0.40615" stop-color="#f0b8c0"/><stop offset="0.40615" stop-color="#2e7020"/><stop offset="0.41246" stop-color="#2e7020"/><stop offset="0.41246" stop-color="#8c2020"/><stop offset="0.42429" stop-color="#8c2020"/><stop offset="0.42429" stop-color="#e05050"/><stop offset="0.43060" stop-color="#e05050"/><stop offset="0.43060" stop-color="#60ee40"/><stop offset="0.43770" stop-color="#60ee40"/><stop offset="0.43770" stop-color="#614a99"/><stop offset="1.00000" stop-color="#614a99"/></linearGradient><linearGradient id="g35" x1="0" y1="0" x2="1" y2="0"><stop offset="0.00000" stop-color="#e2429a"/><stop offset="0.03470" stop-color="#e2429a"/><stop offset="0.03470" stop-color="#78b4dc"/><stop offset="0.05363" stop-color="#78b4dc"/><stop offset="0.05363" stop-color="#6668de"/><stop offset="0.06151" stop-color="#6668de"/><stop offset="0.06151" stop-color="#e8a230"/><stop offset="0.07729" stop-color="#e8a230"/><stop offset="0.07729" stop-color="#62dccc"/><stop offset="0.09621" stop-color="#62dccc"/><stop offset="0.09621" stop-color="#52a86e"/><stop offset="0.11199" stop-color="#52a86e"/><stop offset="0.11199" stop-color="#c87ede"/><stop offset="0.12343" stop-color="#c87ede"/><stop offset="0.12343" stop-color="#d6d488"/><stop offset="0.14554" stop-color="#d6d488"/><stop offset="0.14554" stop-color="#e682c0"/><stop offset="0.16460" stop-color="#e682c0"/><stop offset="0.16460" stop-color="#4ae492"/><stop offset="0.17833" stop-color="#4ae492"/><stop offset="0.17833" stop-color="#323c80"/><stop offset="0.19739" stop-color="#323c80"/><stop offset="0.19739" stop-color="#3c8c80"/><stop offset="0.21722" stop-color="#3c8c80"/><stop offset="0.21722" stop-color="#64d8f0"/><stop offset="0.22866" stop-color="#64d8f0"/><stop offset="0.22866" stop-color="#42a032"/><stop offset="0.23933" stop-color="#42a032"/><stop offset="0.23933" stop-color="#541414"/><stop offset="0.25611" stop-color="#541414"/><stop offset="0.25611" stop-color="#e86422"/><stop offset="0.26755" stop-color="#e86422"/><stop offset="0.26755" stop-color="#d4e42c"/><stop offset="0.28204" stop-color="#d4e42c"/><stop offset="0.28204" stop-color="#2e6040"/><stop offset="0.29271" stop-color="#2e6040"/><stop offset="0.29271" stop-color="#d8b0f0"/><stop offset="0.30415" stop-color="#d8b0f0"/><stop offset="0.30415" stop-color="#8a6a22"/><stop offset="0.32322" stop-color="#8a6a22"/><stop offset="0.32322" stop-color="#50405e"/><stop offset="0.33465" stop-color="#50405e"/><stop offset="0.33465" stop-color="#e040ee"/><stop offset="0.34609" stop-color="#e040ee"/><stop offset="0.34609" stop-color="#4090a8"/><stop offset="0.35753" stop-color="#4090a8"/><stop offset="0.35753" stop-color="#d0dcdc"/><stop offset="0.36363" stop-color="#d0dcdc"/><stop offset="0.36363" stop-color="#904e20"/><stop offset="0.37507" stop-color="#904e20"/><stop offset="0.37507" stop-color="#f0b8c0"/><stop offset="0.38117" stop-color="#f0b8c0"/><stop offset="0.38117" stop-color="#2e7020"/><stop offset="0.38727" stop-color="#2e7020"/><stop offset="0.38727" stop-color="#8c2020"/><stop offset="0.39871" stop-color="#8c2020"/><stop offset="0.39871" stop-color="#e05050"/><stop offset="0.40481" stop-color="#e05050"/><stop offset="0.40481" stop-color="#60ee40"/><stop offset="0.41167" stop-color="#60ee40"/><stop offset="0.41167" stop-color="#614a99"/><stop offset="1.00000" stop-color="#614a99"/></linearGradient></defs>
<g>
<rect x="23.10" y="18.90" width="14.90" height="149.50" fill="url(#g0)"/>
<rect x="39.73" y="18.90" width="14.90" height="149.50" fill="url(#g1)"/>
<rect x="56.36" y="19.10" width="14.90" height="149.30" fill="url(#g2)"/>
<rect x="72.99" y="18.90" width="14.90" height="149.50" fill="url(#g3)"/>
<rect x="89.62" y="18.90" width="14.90" height="149.50" fill="url(#g4)"/>
<rect x="106.25" y="18.90" width="14.90" height="149.50" fill="url(#g5)"/>
<rect x="122.88" y="18.90" width="14.90" height="149.50" fill="url(#g6)"/>
<rect x="139.51" y="18.90" width="14.90" height="149.50" fill="url(#g7)"/>
<rect x="156.14" y="18.90" width="14.90" height="149.50" fill="url(#g8)"/>
<rect x="172.77" y="18.90" width="14.90" height="149.50" fill="url(#g9)"/>
<rect x="189.40" y="18.90" width="14.90" height="149.50" fill="url(#g10)"/>
<rect x="206.03" y="18.90" width="14.90" height="149.50" fill="url(#g11)"/>
<rect x="296.40" y="18.40" width="13.30" height="150.00" fill="url(#g12)"/>
<rect x="311.53" y="18.40" width="13.30" height="150.00" fill="url(#g13)"/>
<rect x="326.66" y="18.40" width="13.30" height="150.00" fill="url(#g14)"/>
<rect x="341.79" y="18.40" width="13.30" height="150.00" fill="url(#g15)"/>
<rect x="356.92" y="18.40" width="13.30" height="150.00" fill="url(#g16)"/>
<rect x="372.05" y="18.40" width="13.30" height="150.00" fill="url(#g17)"/>
<rect x="387.18" y="18.40" width="13.30" height="150.00" fill="url(#g18)"/>
<rect x="402.31" y="18.40" width="13.30" height="150.00" fill="url(#g19)"/>
<rect x="417.44" y="18.40" width="13.30" height="150.00" fill="url(#g20)"/>
<rect x="432.57" y="18.40" width="13.30" height="150.00" fill="url(#g21)"/>
<rect x="447.70" y="18.40" width="13.30" height="150.00" fill="url(#g22)"/>
<rect x="462.83" y="18.40" width="13.30" height="150.00" fill="url(#g23)"/>
<rect x="207.80" y="194.10" width="126.80" height="11.00" fill="url(#g24)"/>
<rect x="207.80" y="207.52" width="126.80" height="11.00" fill="url(#g25)"/>
<rect x="207.80" y="220.94" width="126.80" height="11.00" fill="url(#g26)"/>
<rect x="207.80" y="234.36" width="126.80" height="11.00" fill="url(#g27)"/>
<rect x="207.80" y="247.78" width="126.80" height="11.00" fill="url(#g28)"/>
<rect x="207.80" y="261.20" width="126.80" height="11.00" fill="url(#g29)"/>
<rect x="207.80" y="274.62" width="126.80" height="11.00" fill="url(#g30)"/>
<rect x="207.80" y="288.04" width="126.80" height="11.00" fill="url(#g31)"/>
<rect x="207.80" y="301.46" width="126.80" height="11.00" fill="url(#g32)"/>
<rect x="207.80" y="314.88" width="126.80" height="11.00" fill="url(#g33)"/>
<rect x="207.80" y="328.30" width="126.80" height="11.00" fill="url(#g34)"/>
<rect x="207.80" y="341.72" width="126.80" height="11.00" fill="url(#g35)"/>
</g>
<g shape-rendering="auto">
<line x1="20.60" y1="18.90" x2="20.60" y2="168.40" stroke="#d8d8d8" stroke-width="0.9"/>
<line x1="221.80" y1="18.90" x2="221.80" y2="168.40" stroke="#d8d8d8" stroke-width="0.9"/>
<line x1="19.60" y1="168.40" x2="20.60" y2="168.40" stroke="#888" stroke-width="0.5"/>
<text x="20.30" y="170.40" font-size="6.2" text-anchor="end" fill="#1a1a1a" font-weight="normal" stroke="#1a1a1a" stroke-width="0.124">0</text>
<line x1="19.60" y1="131.03" x2="20.60" y2="131.03" stroke="#888" stroke-width="0.5"/>
<text x="20.30" y="133.03" font-size="6.2" text-anchor="end" fill="#1a1a1a" font-weight="normal" stroke="#1a1a1a" stroke-width="0.124">25</text>
<line x1="19.60" y1="93.65" x2="20.60" y2="93.65" stroke="#888" stroke-width="0.5"/>
<text x="20.30" y="95.65" font-size="6.2" text-anchor="end" fill="#1a1a1a" font-weight="normal" stroke="#1a1a1a" stroke-width="0.124">50</text>
<line x1="19.60" y1="56.28" x2="20.60" y2="56.28" stroke="#888" stroke-width="0.5"/>
<text x="20.30" y="58.28" font-size="6.2" text-anchor="end" fill="#1a1a1a" font-weight="normal" stroke="#1a1a1a" stroke-width="0.124">75</text>
<line x1="19.60" y1="18.90" x2="20.60" y2="18.90" stroke="#888" stroke-width="0.5"/>
<text x="20.30" y="20.90" font-size="6.2" text-anchor="end" fill="#1a1a1a" font-weight="normal" stroke="#1a1a1a" stroke-width="0.124">100</text>
<text x="5.00" y="7.90" font-size="5.5" text-anchor="start" fill="#1a1a1a" font-weight="normal" stroke="#1a1a1a" stroke-width="0.110">(a)</text>
<text x="7.90" y="92.50" font-size="6" text-anchor="middle" fill="#1a1a1a" font-weight="normal" transform="rotate(-90 7.90 92.50)" stroke="#1a1a1a" stroke-width="0.120">Relative Abundance(%)</text>
<text x="32.65" y="170.40" font-size="4.9" text-anchor="end" fill="#2a2a2a" font-weight="normal" transform="rotate(-90 32.65 170.40)" textLength="10.2" lengthAdjust="spacingAndGlyphs" stroke="#2a2a2a" stroke-width="0.06">SD_1</text>
<text x="49.28" y="170.40" font-size="4.9" text-anchor="end" fill="#2a2a2a" font-weight="normal" transform="rotate(-90 49.28 170.40)" textLength="10.2" lengthAdjust="spacingAndGlyphs" stroke="#2a2a2a" stroke-width="0.06">SD_2</text>
<text x="65.91" y="170.40" font-size="4.9" text-anchor="end" fill="#2a2a2a" font-weight="normal" transform="rotate(-90 65.91 170.40)" textLength="10.2" lengthAdjust="spacingAndGlyphs" stroke="#2a2a2a" stroke-width="0.06">SD_3</text>
<text x="82.54" y="170.40" font-size="4.9" text-anchor="end" fill="#2a2a2a" font-weight="normal" transform="rotate(-90 82.54 170.40)" textLength="10.2" lengthAdjust="spacingAndGlyphs" stroke="#2a2a2a" stroke-width="0.06">SD_4</text>
<text x="99.17" y="170.40" font-size="4.9" text-anchor="end" fill="#2a2a2a" font-weight="normal" transform="rotate(-90 99.17 170.40)" textLength="10.2" lengthAdjust="spacingAndGlyphs" stroke="#2a2a2a" stroke-width="0.06">SG_1</text>
<text x="115.80" y="170.40" font-size="4.9" text-anchor="end" fill="#2a2a2a" font-weight="normal" transform="rotate(-90 115.80 170.40)" textLength="10.2" lengthAdjust="spacingAndGlyphs" stroke="#2a2a2a" stroke-width="0.06">SG_2</text>
<text x="132.43" y="170.40" font-size="4.9" text-anchor="end" fill="#2a2a2a" font-weight="normal" transform="rotate(-90 132.43 170.40)" textLength="10.2" lengthAdjust="spacingAndGlyphs" stroke="#2a2a2a" stroke-width="0.06">SG_3</text>
<text x="149.06" y="170.40" font-size="4.9" text-anchor="end" fill="#2a2a2a" font-weight="normal" transform="rotate(-90 149.06 170.40)" textLength="10.2" lengthAdjust="spacingAndGlyphs" stroke="#2a2a2a" stroke-width="0.06">SG_4</text>
<text x="165.69" y="170.40" font-size="4.9" text-anchor="end" fill="#2a2a2a" font-weight="normal" transform="rotate(-90 165.69 170.40)" textLength="10.2" lengthAdjust="spacingAndGlyphs" stroke="#2a2a2a" stroke-width="0.06">SF_1</text>
<text x="182.32" y="170.40" font-size="4.9" text-anchor="end" fill="#2a2a2a" font-weight="normal" transform="rotate(-90 182.32 170.40)" textLength="10.2" lengthAdjust="spacingAndGlyphs" stroke="#2a2a2a" stroke-width="0.06">SF_2</text>
<text x="198.95" y="170.40" font-size="4.9" text-anchor="end" fill="#2a2a2a" font-weight="normal" transform="rotate(-90 198.95 170.40)" textLength="10.2" lengthAdjust="spacingAndGlyphs" stroke="#2a2a2a" stroke-width="0.06">SF_3</text>
<text x="215.58" y="170.40" font-size="4.9" text-anchor="end" fill="#2a2a2a" font-weight="normal" transform="rotate(-90 215.58 170.40)" textLength="10.2" lengthAdjust="spacingAndGlyphs" stroke="#2a2a2a" stroke-width="0.06">SF_4</text>
<line x1="294.10" y1="18.40" x2="294.10" y2="168.40" stroke="#d8d8d8" stroke-width="0.9"/>
<line x1="478.20" y1="18.40" x2="478.20" y2="168.40" stroke="#d8d8d8" stroke-width="0.9"/>
<line x1="293.40" y1="168.40" x2="294.40" y2="168.40" stroke="#888" stroke-width="0.5"/>
<text x="293.00" y="170.50" font-size="6.2" text-anchor="end" fill="#1a1a1a" font-weight="normal" stroke="#1a1a1a" stroke-width="0.124">0</text>
<line x1="293.40" y1="130.90" x2="294.40" y2="130.90" stroke="#888" stroke-width="0.5"/>
<text x="293.00" y="133.00" font-size="6.2" text-anchor="end" fill="#1a1a1a" font-weight="normal" stroke="#1a1a1a" stroke-width="0.124">25</text>
<line x1="293.40" y1="93.40" x2="294.40" y2="93.40" stroke="#888" stroke-width="0.5"/>
<text x="293.00" y="95.50" font-size="6.2" text-anchor="end" fill="#1a1a1a" font-weight="normal" stroke="#1a1a1a" stroke-width="0.124">50</text>
<line x1="293.40" y1="55.90" x2="294.40" y2="55.90" stroke="#888" stroke-width="0.5"/>
<text x="293.00" y="58.00" font-size="6.2" text-anchor="end" fill="#1a1a1a" font-weight="normal" stroke="#1a1a1a" stroke-width="0.124">75</text>
<line x1="293.40" y1="18.40" x2="294.40" y2="18.40" stroke="#888" stroke-width="0.5"/>
<text x="293.00" y="20.50" font-size="6.2" text-anchor="end" fill="#1a1a1a" font-weight="normal" stroke="#1a1a1a" stroke-width="0.124">100</text>
<text x="274.00" y="7.90" font-size="5.5" text-anchor="start" fill="#1a1a1a" font-weight="normal" stroke="#1a1a1a" stroke-width="0.110">(b)</text>
<text x="282.50" y="92.60" font-size="6" text-anchor="middle" fill="#1a1a1a" font-weight="normal" transform="rotate(-90 282.50 92.60)" stroke="#1a1a1a" stroke-width="0.120">Relative Abundance(%)</text>
<text x="305.15" y="170.40" font-size="4.9" text-anchor="end" fill="#2a2a2a" font-weight="normal" transform="rotate(-90 305.15 170.40)" textLength="10.2" lengthAdjust="spacingAndGlyphs" stroke="#2a2a2a" stroke-width="0.06">SD_1</text>
<text x="320.28" y="170.40" font-size="4.9" text-anchor="end" fill="#2a2a2a" font-weight="normal" transform="rotate(-90 320.28 170.40)" textLength="10.2" lengthAdjust="spacingAndGlyphs" stroke="#2a2a2a" stroke-width="0.06">SD_2</text>
<text x="335.41" y="170.40" font-size="4.9" text-anchor="end" fill="#2a2a2a" font-weight="normal" transform="rotate(-90 335.41 170.40)" textLength="10.2" lengthAdjust="spacingAndGlyphs" stroke="#2a2a2a" stroke-width="0.06">SD_3</text>
<text x="350.54" y="170.40" font-size="4.9" text-anchor="end" fill="#2a2a2a" font-weight="normal" transform="rotate(-90 350.54 170.40)" textLength="10.2" lengthAdjust="spacingAndGlyphs" stroke="#2a2a2a" stroke-width="0.06">SD_4</text>
<text x="365.67" y="170.40" font-size="4.9" text-anchor="end" fill="#2a2a2a" font-weight="normal" transform="rotate(-90 365.67 170.40)" textLength="10.2" lengthAdjust="spacingAndGlyphs" stroke="#2a2a2a" stroke-width="0.06">SG_1</text>
<text x="380.80" y="170.40" font-size="4.9" text-anchor="end" fill="#2a2a2a" font-weight="normal" transform="rotate(-90 380.80 170.40)" textLength="10.2" lengthAdjust="spacingAndGlyphs" stroke="#2a2a2a" stroke-width="0.06">SG_2</text>
<text x="395.93" y="170.40" font-size="4.9" text-anchor="end" fill="#2a2a2a" font-weight="normal" transform="rotate(-90 395.93 170.40)" textLength="10.2" lengthAdjust="spacingAndGlyphs" stroke="#2a2a2a" stroke-width="0.06">SG_3</text>
<text x="411.06" y="170.40" font-size="4.9" text-anchor="end" fill="#2a2a2a" font-weight="normal" transform="rotate(-90 411.06 170.40)" textLength="10.2" lengthAdjust="spacingAndGlyphs" stroke="#2a2a2a" stroke-width="0.06">SG_4</text>
<text x="426.19" y="170.40" font-size="4.9" text-anchor="end" fill="#2a2a2a" font-weight="normal" transform="rotate(-90 426.19 170.40)" textLength="10.2" lengthAdjust="spacingAndGlyphs" stroke="#2a2a2a" stroke-width="0.06">SF_1</text>
<text x="441.32" y="170.40" font-size="4.9" text-anchor="end" fill="#2a2a2a" font-weight="normal" transform="rotate(-90 441.32 170.40)" textLength="10.2" lengthAdjust="spacingAndGlyphs" stroke="#2a2a2a" stroke-width="0.06">SF_2</text>
<text x="456.45" y="170.40" font-size="4.9" text-anchor="end" fill="#2a2a2a" font-weight="normal" transform="rotate(-90 456.45 170.40)" textLength="10.2" lengthAdjust="spacingAndGlyphs" stroke="#2a2a2a" stroke-width="0.06">SF_3</text>
<text x="471.58" y="170.40" font-size="4.9" text-anchor="end" fill="#2a2a2a" font-weight="normal" transform="rotate(-90 471.58 170.40)" textLength="10.2" lengthAdjust="spacingAndGlyphs" stroke="#2a2a2a" stroke-width="0.06">SF_4</text>
<text x="270.80" y="184.30" font-size="5.2" text-anchor="middle" fill="#222" font-weight="bold">Genus</text>
<text x="226.00" y="21.20" font-size="3.9" text-anchor="start" fill="#333" font-weight="normal" stroke="#333" stroke-width="0.086">Phylum</text>
<rect x="225.90" y="22.75" width="4.70" height="4.30" fill="#e2429a"/>
<text x="232.20" y="26.10" font-size="3.3" text-anchor="start" fill="#383838" font-weight="normal" stroke="#383838" stroke-width="0.073">Proteobacteria</text>
<rect x="225.90" y="27.45" width="4.70" height="4.30" fill="#78b4dc"/>
<text x="232.20" y="30.80" font-size="3.3" text-anchor="start" fill="#383838" font-weight="normal" stroke="#383838" stroke-width="0.073">Acidobacteriota</text>
<rect x="225.90" y="32.15" width="4.70" height="4.30" fill="#6668de"/>
<text x="232.20" y="35.50" font-size="3.3" text-anchor="start" fill="#383838" font-weight="normal" stroke="#383838" stroke-width="0.073">Actinobacteriota</text>
<rect x="225.90" y="36.85" width="4.70" height="4.30" fill="#e8a230"/>
<text x="232.20" y="40.20" font-size="3.3" text-anchor="start" fill="#383838" font-weight="normal" stroke="#383838" stroke-width="0.073">Chloroflexi</text>
<rect x="225.90" y="41.55" width="4.70" height="4.30" fill="#62dccc"/>
<text x="232.20" y="44.90" font-size="3.3" text-anchor="start" fill="#383838" font-weight="normal" stroke="#383838" stroke-width="0.073">Planctomycetota</text>
<rect x="225.90" y="46.25" width="4.70" height="4.30" fill="#52a86e"/>
<text x="232.20" y="49.60" font-size="3.3" text-anchor="start" fill="#383838" font-weight="normal" stroke="#383838" stroke-width="0.073">Firmicutes</text>
<rect x="225.90" y="50.95" width="4.70" height="4.30" fill="#c87ede"/>
<text x="232.20" y="54.30" font-size="3.3" text-anchor="start" fill="#383838" font-weight="normal" stroke="#383838" stroke-width="0.073">Myxococcota</text>
<rect x="225.90" y="55.65" width="4.70" height="4.30" fill="#d6d488"/>
<text x="232.20" y="59.00" font-size="3.3" text-anchor="start" fill="#383838" font-weight="normal" stroke="#383838" stroke-width="0.073">Verrucomicrobiota</text>
<rect x="225.90" y="60.35" width="4.70" height="4.30" fill="#e682c0"/>
<text x="232.20" y="63.70" font-size="3.3" text-anchor="start" fill="#383838" font-weight="normal" stroke="#383838" stroke-width="0.073">Gemmatimonadota</text>
<rect x="225.90" y="65.05" width="4.70" height="4.30" fill="#4ae492"/>
<text x="232.20" y="68.40" font-size="3.3" text-anchor="start" fill="#383838" font-weight="normal" stroke="#383838" stroke-width="0.073">Nitrospirota</text>
<rect x="225.90" y="69.75" width="4.70" height="4.30" fill="#323c80"/>
<text x="232.20" y="73.10" font-size="3.3" text-anchor="start" fill="#383838" font-weight="normal" stroke="#383838" stroke-width="0.073">Desulfobacterota</text>
<rect x="225.90" y="74.45" width="4.70" height="4.30" fill="#3c8c80"/>
<text x="232.20" y="77.80" font-size="3.3" text-anchor="start" fill="#383838" font-weight="normal" stroke="#383838" stroke-width="0.073">Bacteroidota</text>
<rect x="225.90" y="79.15" width="4.70" height="4.30" fill="#64d8f0"/>
<text x="232.20" y="82.50" font-size="3.3" text-anchor="start" fill="#383838" font-weight="normal" stroke="#383838" stroke-width="0.073">Latescibacterota</text>
<rect x="225.90" y="83.85" width="4.70" height="4.30" fill="#42a032"/>
<text x="232.20" y="87.20" font-size="3.3" text-anchor="start" fill="#383838" font-weight="normal" stroke="#383838" stroke-width="0.073">Cyanobacteria</text>
<rect x="225.90" y="88.55" width="4.70" height="4.30" fill="#541414"/>
<text x="232.20" y="91.90" font-size="3.3" text-anchor="start" fill="#383838" font-weight="normal" stroke="#383838" stroke-width="0.073">unclassified</text>
<rect x="225.90" y="93.25" width="4.70" height="4.30" fill="#e86422"/>
<text x="232.20" y="96.60" font-size="3.3" text-anchor="start" fill="#383838" font-weight="normal" stroke="#383838" stroke-width="0.073">Patescibacteria</text>
<rect x="225.90" y="97.95" width="4.70" height="4.30" fill="#d4e42c"/>
<text x="232.20" y="101.30" font-size="3.3" text-anchor="start" fill="#383838" font-weight="normal" stroke="#383838" stroke-width="0.073">Methylomirabilota</text>
<rect x="225.90" y="102.65" width="4.70" height="4.30" fill="#2e6040"/>
<text x="232.20" y="106.00" font-size="3.3" text-anchor="start" fill="#383838" font-weight="normal" stroke="#383838" stroke-width="0.073">WPS-2</text>
<rect x="225.90" y="107.35" width="4.70" height="4.30" fill="#d8b0f0"/>
<text x="232.20" y="110.70" font-size="3.3" text-anchor="start" fill="#383838" font-weight="normal" stroke="#383838" stroke-width="0.073">MBNT15</text>
<rect x="225.90" y="112.05" width="4.70" height="4.30" fill="#8a6a22"/>
<text x="232.20" y="115.40" font-size="3.3" text-anchor="start" fill="#383838" font-weight="normal" stroke="#383838" stroke-width="0.073">Bdellovibrionota</text>
<rect x="225.90" y="116.75" width="4.70" height="4.30" fill="#50405e"/>
<text x="232.20" y="120.10" font-size="3.3" text-anchor="start" fill="#383838" font-weight="normal" stroke="#383838" stroke-width="0.073">RCP2-54</text>
<rect x="225.90" y="121.45" width="4.70" height="4.30" fill="#e040ee"/>
<text x="232.20" y="124.80" font-size="3.3" text-anchor="start" fill="#383838" font-weight="normal" stroke="#383838" stroke-width="0.073">Elusimicrobiota</text>
<rect x="225.90" y="126.15" width="4.70" height="4.30" fill="#4090a8"/>
<text x="232.20" y="129.50" font-size="3.3" text-anchor="start" fill="#383838" font-weight="normal" stroke="#383838" stroke-width="0.073">Spirochaetota</text>
<rect x="225.90" y="130.85" width="4.70" height="4.30" fill="#d0dcdc"/>
<text x="232.20" y="134.20" font-size="3.3" text-anchor="start" fill="#383838" font-weight="normal" stroke="#383838" stroke-width="0.073">Armatimonadota</text>
<rect x="225.90" y="135.55" width="4.70" height="4.30" fill="#904e20"/>
<text x="232.20" y="138.90" font-size="3.3" text-anchor="start" fill="#383838" font-weight="normal" stroke="#383838" stroke-width="0.073">Sva0485</text>
<rect x="225.90" y="140.25" width="4.70" height="4.30" fill="#f0b8c0"/>
<text x="232.20" y="143.60" font-size="3.3" text-anchor="start" fill="#383838" font-weight="normal" stroke="#383838" stroke-width="0.073">NB1-j</text>
<rect x="225.90" y="144.95" width="4.70" height="4.30" fill="#2e7020"/>
<text x="232.20" y="148.30" font-size="3.3" text-anchor="start" fill="#383838" font-weight="normal" stroke="#383838" stroke-width="0.073">FCPU426</text>
<rect x="225.90" y="149.65" width="4.70" height="4.30" fill="#8c2020"/>
<text x="232.20" y="153.00" font-size="3.3" text-anchor="start" fill="#383838" font-weight="normal" stroke="#383838" stroke-width="0.073">GAL15</text>
<rect x="225.90" y="154.35" width="4.70" height="4.30" fill="#e05050"/>
<text x="232.20" y="157.70" font-size="3.3" text-anchor="start" fill="#383838" font-weight="normal" stroke="#383838" stroke-width="0.073">Dependentiae</text>
<rect x="225.90" y="159.05" width="4.70" height="4.30" fill="#60ee40"/>
<text x="232.20" y="162.40" font-size="3.3" text-anchor="start" fill="#383838" font-weight="normal" stroke="#383838" stroke-width="0.073">Fusobacteriota</text>
<rect x="225.90" y="163.75" width="4.70" height="4.30" fill="#614a99"/>
<text x="232.20" y="167.10" font-size="3.3" text-anchor="start" fill="#383838" font-weight="normal" stroke="#383838" stroke-width="0.073">Others</text>
<text x="481.00" y="20.80" font-size="3.9" text-anchor="start" fill="#333" font-weight="normal" stroke="#333" stroke-width="0.086">Order</text>
<rect x="481.50" y="22.35" width="4.00" height="4.30" fill="#e2429a"/>
<text x="487.20" y="25.70" font-size="3.3" text-anchor="start" fill="#383838" font-weight="normal" stroke="#383838" stroke-width="0.073">Burkholderiales</text>
<rect x="481.50" y="27.11" width="4.00" height="4.30" fill="#78b4dc"/>
<text x="487.20" y="30.46" font-size="3.3" text-anchor="start" fill="#383838" font-weight="normal" stroke="#383838" stroke-width="0.073">Rhizobiales</text>
<rect x="481.50" y="31.87" width="4.00" height="4.30" fill="#6668de"/>
<text x="487.20" y="35.22" font-size="3.3" text-anchor="start" fill="#383838" font-weight="normal" stroke="#383838" stroke-width="0.073">Acidobacteriales</text>
<rect x="481.50" y="36.63" width="4.00" height="4.30" fill="#e8a230"/>
<text x="487.20" y="39.98" font-size="3.3" text-anchor="start" fill="#383838" font-weight="normal" stroke="#383838" stroke-width="0.073">Gemmatales</text>
<rect x="481.50" y="41.39" width="4.00" height="4.30" fill="#62dccc"/>
<text x="487.20" y="44.74" font-size="3.3" text-anchor="start" fill="#383838" font-weight="normal" stroke="#383838" stroke-width="0.073">Ktedonobacterales</text>
<rect x="481.50" y="46.15" width="4.00" height="4.30" fill="#52a86e"/>
<text x="487.20" y="49.50" font-size="3.3" text-anchor="start" fill="#383838" font-weight="normal" stroke="#383838" stroke-width="0.073">Gaiellales</text>
<rect x="481.50" y="50.91" width="4.00" height="4.30" fill="#c87ede"/>
<text x="487.20" y="54.26" font-size="3.3" text-anchor="start" fill="#383838" font-weight="normal" stroke="#383838" stroke-width="0.073">Myxococcales</text>
<rect x="481.50" y="55.67" width="4.00" height="4.30" fill="#d6d488"/>
<text x="487.20" y="59.02" font-size="3.3" text-anchor="start" fill="#383838" font-weight="normal" stroke="#383838" stroke-width="0.073">AD3_unclassified</text>
<rect x="481.50" y="60.43" width="4.00" height="4.30" fill="#e682c0"/>
<text x="487.20" y="63.78" font-size="3.3" text-anchor="start" fill="#383838" font-weight="normal" stroke="#383838" stroke-width="0.073">Gemmatimonadales</text>
<rect x="481.50" y="65.19" width="4.00" height="4.30" fill="#4ae492"/>
<text x="487.20" y="68.54" font-size="3.3" text-anchor="start" fill="#383838" font-weight="normal" stroke="#383838" stroke-width="0.073">Frankiales</text>
<rect x="481.50" y="69.95" width="4.00" height="4.30" fill="#323c80"/>
<text x="487.20" y="73.30" font-size="3.3" text-anchor="start" fill="#383838" font-weight="normal" stroke="#383838" stroke-width="0.073">Isosphaerales</text>
<rect x="481.50" y="74.71" width="4.00" height="4.30" fill="#3c8c80"/>
<text x="487.20" y="78.06" font-size="3.3" text-anchor="start" fill="#383838" font-weight="normal" stroke="#383838" stroke-width="0.073">Subgroup_7</text>
<rect x="481.50" y="79.47" width="4.00" height="4.30" fill="#64d8f0"/>
<text x="487.20" y="82.82" font-size="3.3" text-anchor="start" fill="#383838" font-weight="normal" stroke="#383838" stroke-width="0.073">Acidobacteriota_unclassified</text>
<rect x="481.50" y="84.23" width="4.00" height="4.30" fill="#42a032"/>
<text x="487.20" y="87.58" font-size="3.3" text-anchor="start" fill="#383838" font-weight="normal" stroke="#383838" stroke-width="0.073">Solibacterales</text>
<rect x="481.50" y="88.99" width="4.00" height="4.30" fill="#541414"/>
<text x="487.20" y="92.34" font-size="3.3" text-anchor="start" fill="#383838" font-weight="normal" stroke="#383838" stroke-width="0.073">KD4-96_unclassified</text>
<rect x="481.50" y="93.75" width="4.00" height="4.30" fill="#e86422"/>
<text x="487.20" y="97.10" font-size="3.3" text-anchor="start" fill="#383838" font-weight="normal" stroke="#383838" stroke-width="0.073">Bacillales</text>
<rect x="481.50" y="98.51" width="4.00" height="4.30" fill="#d4e42c"/>
<text x="487.20" y="101.86" font-size="3.3" text-anchor="start" fill="#383838" font-weight="normal" stroke="#383838" stroke-width="0.073">Elsterales</text>
<rect x="481.50" y="103.27" width="4.00" height="4.30" fill="#2e6040"/>
<text x="487.20" y="106.62" font-size="3.3" text-anchor="start" fill="#383838" font-weight="normal" stroke="#383838" stroke-width="0.073">Haliangiales</text>
<rect x="481.50" y="108.03" width="4.00" height="4.30" fill="#d8b0f0"/>
<text x="487.20" y="111.38" font-size="3.3" text-anchor="start" fill="#383838" font-weight="normal" stroke="#383838" stroke-width="0.073">Actinobacteriota_unclassified</text>
<rect x="481.50" y="112.79" width="4.00" height="4.30" fill="#8a6a22"/>
<text x="487.20" y="116.14" font-size="3.3" text-anchor="start" fill="#383838" font-weight="normal" stroke="#383838" stroke-width="0.073">Vicinamibacterales</text>
<rect x="481.50" y="117.55" width="4.00" height="4.30" fill="#50405e"/>
<text x="487.20" y="120.90" font-size="3.3" text-anchor="start" fill="#383838" font-weight="normal" stroke="#383838" stroke-width="0.073">Chthoniobacterales</text>
<rect x="481.50" y="122.31" width="4.00" height="4.30" fill="#e040ee"/>
<text x="487.20" y="125.66" font-size="3.3" text-anchor="start" fill="#383838" font-weight="normal" stroke="#383838" stroke-width="0.073">Pedosphaerales</text>
<rect x="481.50" y="127.07" width="4.00" height="4.30" fill="#4090a8"/>
<text x="487.20" y="130.42" font-size="3.3" text-anchor="start" fill="#383838" font-weight="normal" stroke="#383838" stroke-width="0.073">Bryobacterales</text>
<rect x="481.50" y="131.83" width="4.00" height="4.30" fill="#d0dcdc"/>
<text x="487.20" y="135.18" font-size="3.3" text-anchor="start" fill="#383838" font-weight="normal" stroke="#383838" stroke-width="0.073">Sphingomonadales</text>
<rect x="481.50" y="136.59" width="4.00" height="4.30" fill="#904e20"/>
<text x="487.20" y="139.94" font-size="3.3" text-anchor="start" fill="#383838" font-weight="normal" stroke="#383838" stroke-width="0.073">Gammaproteobacteria_Incertae_Sedis</text>
<rect x="481.50" y="141.35" width="4.00" height="4.30" fill="#f0b8c0"/>
<text x="487.20" y="144.70" font-size="3.3" text-anchor="start" fill="#383838" font-weight="normal" stroke="#383838" stroke-width="0.073">Planctomycetales</text>
<rect x="481.50" y="146.11" width="4.00" height="4.30" fill="#2e7020"/>
<text x="487.20" y="149.46" font-size="3.3" text-anchor="start" fill="#383838" font-weight="normal" stroke="#383838" stroke-width="0.073">Proteobacteria_unclassified</text>
<rect x="481.50" y="150.87" width="4.00" height="4.30" fill="#8c2020"/>
<text x="487.20" y="154.22" font-size="3.3" text-anchor="start" fill="#383838" font-weight="normal" stroke="#383838" stroke-width="0.073">RBG-13-54-9</text>
<rect x="481.50" y="155.63" width="4.00" height="4.30" fill="#e05050"/>
<text x="487.20" y="158.98" font-size="3.3" text-anchor="start" fill="#383838" font-weight="normal" stroke="#383838" stroke-width="0.073">Lactobacillales</text>
<rect x="481.50" y="160.39" width="4.00" height="4.30" fill="#60ee40"/>
<text x="487.20" y="163.74" font-size="3.3" text-anchor="start" fill="#383838" font-weight="normal" stroke="#383838" stroke-width="0.073">Alphaproteobacteria_unclassified</text>
<rect x="481.50" y="165.15" width="4.00" height="4.30" fill="#614a99"/>
<text x="487.20" y="168.50" font-size="3.3" text-anchor="start" fill="#383838" font-weight="normal" stroke="#383838" stroke-width="0.073">Others</text>
<rect x="339.40" y="194.55" width="2.50" height="2.50" fill="#e2429a"/>
<text x="345.60" y="197.15" font-size="3.75" text-anchor="start" fill="#383838" font-weight="normal" stroke="#383838" stroke-width="0.082">Acidobacteriales_unclassified</text>
<rect x="339.40" y="199.25" width="2.50" height="2.50" fill="#78b4dc"/>
<text x="345.60" y="201.85" font-size="3.75" text-anchor="start" fill="#383838" font-weight="normal" stroke="#383838" stroke-width="0.082">Gemmataceae_unclassified</text>
<rect x="339.40" y="203.95" width="2.50" height="2.50" fill="#6668de"/>
<text x="345.60" y="206.55" font-size="3.75" text-anchor="start" fill="#383838" font-weight="normal" stroke="#383838" stroke-width="0.082">Gaiellales_unclassified</text>
<rect x="339.40" y="208.65" width="2.50" height="2.50" fill="#e8a230"/>
<text x="345.60" y="211.25" font-size="3.75" text-anchor="start" fill="#383838" font-weight="normal" stroke="#383838" stroke-width="0.082">SC-I-84_unclassified</text>
<rect x="339.40" y="213.35" width="2.50" height="2.50" fill="#62dccc"/>
<text x="345.60" y="215.95" font-size="3.75" text-anchor="start" fill="#383838" font-weight="normal" stroke="#383838" stroke-width="0.082">Bradyrhizobium</text>
<rect x="339.40" y="218.05" width="2.50" height="2.50" fill="#52a86e"/>
<text x="345.60" y="220.65" font-size="3.75" text-anchor="start" fill="#383838" font-weight="normal" stroke="#383838" stroke-width="0.082">AD3_unclassified</text>
<rect x="339.40" y="222.75" width="2.50" height="2.50" fill="#c87ede"/>
<text x="345.60" y="225.35" font-size="3.75" text-anchor="start" fill="#383838" font-weight="normal" stroke="#383838" stroke-width="0.082">Subgroup_7_unclassified</text>
<rect x="339.40" y="227.45" width="2.50" height="2.50" fill="#d6d488"/>
<text x="345.60" y="230.05" font-size="3.75" text-anchor="start" fill="#383838" font-weight="normal" stroke="#383838" stroke-width="0.082">Acidobacteriota_unclassified</text>
<rect x="339.40" y="232.15" width="2.50" height="2.50" fill="#e682c0"/>
<text x="345.60" y="234.75" font-size="3.75" text-anchor="start" fill="#383838" font-weight="normal" stroke="#383838" stroke-width="0.082">Candidatus_Solibacter</text>
<rect x="339.40" y="236.85" width="2.50" height="2.50" fill="#4ae492"/>
<text x="345.60" y="239.45" font-size="3.75" text-anchor="start" fill="#383838" font-weight="normal" stroke="#383838" stroke-width="0.082">KD4-96_unclassified</text>
<rect x="339.40" y="241.55" width="2.50" height="2.50" fill="#323c80"/>
<text x="345.60" y="244.15" font-size="3.75" text-anchor="start" fill="#383838" font-weight="normal" stroke="#383838" stroke-width="0.082">Ellin6067</text>
<rect x="339.40" y="246.25" width="2.50" height="2.50" fill="#3c8c80"/>
<text x="345.60" y="248.85" font-size="3.75" text-anchor="start" fill="#383838" font-weight="normal" stroke="#383838" stroke-width="0.082">Haliangium</text>
<rect x="339.40" y="250.95" width="2.50" height="2.50" fill="#64d8f0"/>
<text x="345.60" y="253.55" font-size="3.75" text-anchor="start" fill="#383838" font-weight="normal" stroke="#383838" stroke-width="0.082">Anaeromyxobacter</text>
<rect x="339.40" y="255.65" width="2.50" height="2.50" fill="#42a032"/>
<text x="345.60" y="258.25" font-size="3.75" text-anchor="start" fill="#383838" font-weight="normal" stroke="#383838" stroke-width="0.082">Actinobacteriota_unclassified</text>
<rect x="339.40" y="260.35" width="2.50" height="2.50" fill="#541414"/>
<text x="345.60" y="262.95" font-size="3.75" text-anchor="start" fill="#383838" font-weight="normal" stroke="#383838" stroke-width="0.082">Acidothermus</text>
<rect x="339.40" y="265.05" width="2.50" height="2.50" fill="#e86422"/>
<text x="345.60" y="267.65" font-size="3.75" text-anchor="start" fill="#383838" font-weight="normal" stroke="#383838" stroke-width="0.082">Candidatus_Udaeobacter</text>
<rect x="339.40" y="269.75" width="2.50" height="2.50" fill="#d4e42c"/>
<text x="345.60" y="272.35" font-size="3.75" text-anchor="start" fill="#383838" font-weight="normal" stroke="#383838" stroke-width="0.082">Bryobacter</text>
<rect x="339.40" y="274.45" width="2.50" height="2.50" fill="#2e6040"/>
<text x="345.60" y="277.05" font-size="3.75" text-anchor="start" fill="#383838" font-weight="normal" stroke="#383838" stroke-width="0.082">Vicinamibacterales_unclassified</text>
<rect x="339.40" y="279.15" width="2.50" height="2.50" fill="#d8b0f0"/>
<text x="345.60" y="281.75" font-size="3.75" text-anchor="start" fill="#383838" font-weight="normal" stroke="#383838" stroke-width="0.082">Elsterales_unclassified</text>
<rect x="339.40" y="283.85" width="2.50" height="2.50" fill="#8a6a22"/>
<text x="345.60" y="286.45" font-size="3.75" text-anchor="start" fill="#383838" font-weight="normal" stroke="#383838" stroke-width="0.082">Bacillus</text>
<rect x="339.40" y="288.55" width="2.50" height="2.50" fill="#50405e"/>
<text x="345.60" y="291.15" font-size="3.75" text-anchor="start" fill="#383838" font-weight="normal" stroke="#383838" stroke-width="0.082">Sphingomonas</text>
<rect x="339.40" y="293.25" width="2.50" height="2.50" fill="#e040ee"/>
<text x="345.60" y="295.85" font-size="3.75" text-anchor="start" fill="#383838" font-weight="normal" stroke="#383838" stroke-width="0.082">Rhodoplanes</text>
<rect x="339.40" y="297.95" width="2.50" height="2.50" fill="#4090a8"/>
<text x="345.60" y="300.55" font-size="3.75" text-anchor="start" fill="#383838" font-weight="normal" stroke="#383838" stroke-width="0.082">Acidibacter</text>
<rect x="339.40" y="302.65" width="2.50" height="2.50" fill="#d0dcdc"/>
<text x="345.60" y="305.25" font-size="3.75" text-anchor="start" fill="#383838" font-weight="normal" stroke="#383838" stroke-width="0.082">Proteobacteria_unclassified</text>
<rect x="339.40" y="307.35" width="2.50" height="2.50" fill="#904e20"/>
<text x="345.60" y="309.95" font-size="3.75" text-anchor="start" fill="#383838" font-weight="normal" stroke="#383838" stroke-width="0.082">Gemmatimonadaceae_unclassified</text>
<rect x="339.40" y="312.05" width="2.50" height="2.50" fill="#f0b8c0"/>
<text x="345.60" y="314.65" font-size="3.75" text-anchor="start" fill="#383838" font-weight="normal" stroke="#383838" stroke-width="0.082">Gemmatimonas</text>
<rect x="339.40" y="316.75" width="2.50" height="2.50" fill="#2e7020"/>
<text x="345.60" y="319.35" font-size="3.75" text-anchor="start" fill="#383838" font-weight="normal" stroke="#383838" stroke-width="0.082">Aquisphaera</text>
<rect x="339.40" y="321.45" width="2.50" height="2.50" fill="#8c2020"/>
<text x="345.60" y="324.05" font-size="3.75" text-anchor="start" fill="#383838" font-weight="normal" stroke="#383838" stroke-width="0.082">JG30-KF-AS9_unclassified</text>
<rect x="339.40" y="326.15" width="2.50" height="2.50" fill="#e05050"/>
<text x="345.60" y="328.75" font-size="3.75" text-anchor="start" fill="#383838" font-weight="normal" stroke="#383838" stroke-width="0.082">RBG-13-54-9_unclassified</text>
<rect x="339.40" y="330.85" width="2.50" height="2.50" fill="#60ee40"/>
<text x="345.60" y="333.45" font-size="3.75" text-anchor="start" fill="#383838" font-weight="normal" stroke="#383838" stroke-width="0.082">Alphaproteobacteria_unclassified</text>
<rect x="339.40" y="335.55" width="2.50" height="2.50" fill="#614a99"/>
<text x="345.60" y="338.15" font-size="3.75" text-anchor="start" fill="#383838" font-weight="normal" stroke="#383838" stroke-width="0.082">Others</text>
<line x1="162.30" y1="200.35" x2="177.20" y2="200.35" stroke="#8a8a8a" stroke-width="0.8"/>
<line x1="162.30" y1="213.59" x2="177.20" y2="213.59" stroke="#8a8a8a" stroke-width="0.8"/>
<line x1="162.30" y1="200.35" x2="162.30" y2="213.59" stroke="#8a8a8a" stroke-width="0.8"/>
<line x1="156.20" y1="206.97" x2="162.30" y2="206.97" stroke="#8a8a8a" stroke-width="0.8"/>
<line x1="156.20" y1="226.83" x2="177.20" y2="226.83" stroke="#8a8a8a" stroke-width="0.8"/>
<line x1="156.20" y1="206.97" x2="156.20" y2="226.83" stroke="#8a8a8a" stroke-width="0.8"/>
<line x1="160.40" y1="240.07" x2="177.20" y2="240.07" stroke="#8a8a8a" stroke-width="0.8"/>
<line x1="160.40" y1="253.31" x2="177.20" y2="253.31" stroke="#8a8a8a" stroke-width="0.8"/>
<line x1="160.40" y1="240.07" x2="160.40" y2="253.31" stroke="#8a8a8a" stroke-width="0.8"/>
<line x1="146.60" y1="216.90" x2="156.20" y2="216.90" stroke="#8a8a8a" stroke-width="0.8"/>
<line x1="146.60" y1="246.69" x2="160.40" y2="246.69" stroke="#8a8a8a" stroke-width="0.8"/>
<line x1="146.60" y1="216.90" x2="146.60" y2="246.69" stroke="#8a8a8a" stroke-width="0.8"/>
<line x1="161.60" y1="266.55" x2="177.20" y2="266.55" stroke="#8a8a8a" stroke-width="0.8"/>
<line x1="161.60" y1="279.79" x2="177.20" y2="279.79" stroke="#8a8a8a" stroke-width="0.8"/>
<line x1="161.60" y1="266.55" x2="161.60" y2="279.79" stroke="#8a8a8a" stroke-width="0.8"/>
<line x1="139.80" y1="231.79" x2="146.60" y2="231.79" stroke="#8a8a8a" stroke-width="0.8"/>
<line x1="139.80" y1="273.17" x2="161.60" y2="273.17" stroke="#8a8a8a" stroke-width="0.8"/>
<line x1="139.80" y1="231.79" x2="139.80" y2="273.17" stroke="#8a8a8a" stroke-width="0.8"/>
<line x1="126.80" y1="252.48" x2="139.80" y2="252.48" stroke="#8a8a8a" stroke-width="0.8"/>
<line x1="126.80" y1="293.03" x2="177.20" y2="293.03" stroke="#8a8a8a" stroke-width="0.8"/>
<line x1="126.80" y1="252.48" x2="126.80" y2="293.03" stroke="#8a8a8a" stroke-width="0.8"/>
<line x1="162.40" y1="306.27" x2="177.20" y2="306.27" stroke="#8a8a8a" stroke-width="0.8"/>
<line x1="162.40" y1="319.51" x2="177.20" y2="319.51" stroke="#8a8a8a" stroke-width="0.8"/>
<line x1="162.40" y1="306.27" x2="162.40" y2="319.51" stroke="#8a8a8a" stroke-width="0.8"/>
<line x1="159.20" y1="312.89" x2="162.40" y2="312.89" stroke="#8a8a8a" stroke-width="0.8"/>
<line x1="159.20" y1="332.75" x2="177.20" y2="332.75" stroke="#8a8a8a" stroke-width="0.8"/>
<line x1="159.20" y1="312.89" x2="159.20" y2="332.75" stroke="#8a8a8a" stroke-width="0.8"/>
<line x1="157.40" y1="322.82" x2="159.20" y2="322.82" stroke="#8a8a8a" stroke-width="0.8"/>
<line x1="157.40" y1="345.99" x2="177.20" y2="345.99" stroke="#8a8a8a" stroke-width="0.8"/>
<line x1="157.40" y1="322.82" x2="157.40" y2="345.99" stroke="#8a8a8a" stroke-width="0.8"/>
<line x1="108.20" y1="272.76" x2="126.80" y2="272.76" stroke="#8a8a8a" stroke-width="0.8"/>
<line x1="108.20" y1="334.40" x2="157.40" y2="334.40" stroke="#8a8a8a" stroke-width="0.8"/>
<line x1="108.20" y1="272.76" x2="108.20" y2="334.40" stroke="#8a8a8a" stroke-width="0.8"/>
<text x="179.80" y="202.65" font-size="4.9" text-anchor="start" fill="#2a2a2a" font-weight="normal" textLength="11.26" lengthAdjust="spacingAndGlyphs" stroke="#2a2a2a" stroke-width="0.06">SG_4</text>
<text x="179.80" y="215.89" font-size="4.9" text-anchor="start" fill="#2a2a2a" font-weight="normal" textLength="11.26" lengthAdjust="spacingAndGlyphs" stroke="#2a2a2a" stroke-width="0.06">SD_2</text>
<text x="179.80" y="229.13" font-size="4.9" text-anchor="start" fill="#2a2a2a" font-weight="normal" textLength="11.26" lengthAdjust="spacingAndGlyphs" stroke="#2a2a2a" stroke-width="0.06">SG_3</text>
<text x="179.80" y="242.37" font-size="4.9" text-anchor="start" fill="#2a2a2a" font-weight="normal" textLength="11.26" lengthAdjust="spacingAndGlyphs" stroke="#2a2a2a" stroke-width="0.06">SG_1</text>
<text x="179.80" y="255.61" font-size="4.9" text-anchor="start" fill="#2a2a2a" font-weight="normal" textLength="11.26" lengthAdjust="spacingAndGlyphs" stroke="#2a2a2a" stroke-width="0.06">SD_4</text>
<text x="179.80" y="268.85" font-size="4.9" text-anchor="start" fill="#2a2a2a" font-weight="normal" textLength="11.26" lengthAdjust="spacingAndGlyphs" stroke="#2a2a2a" stroke-width="0.06">SD_3</text>
<text x="179.80" y="282.09" font-size="4.9" text-anchor="start" fill="#2a2a2a" font-weight="normal" textLength="11.26" lengthAdjust="spacingAndGlyphs" stroke="#2a2a2a" stroke-width="0.06">SD_1</text>
<text x="179.80" y="295.33" font-size="4.9" text-anchor="start" fill="#2a2a2a" font-weight="normal" textLength="11.26" lengthAdjust="spacingAndGlyphs" stroke="#2a2a2a" stroke-width="0.06">SG_2</text>
<text x="179.80" y="308.57" font-size="4.9" text-anchor="start" fill="#2a2a2a" font-weight="normal" textLength="11.26" lengthAdjust="spacingAndGlyphs" stroke="#2a2a2a" stroke-width="0.06">SF_4</text>
<text x="179.80" y="321.81" font-size="4.9" text-anchor="start" fill="#2a2a2a" font-weight="normal" textLength="11.26" lengthAdjust="spacingAndGlyphs" stroke="#2a2a2a" stroke-width="0.06">SF_3</text>
<text x="179.80" y="335.05" font-size="4.9" text-anchor="start" fill="#2a2a2a" font-weight="normal" textLength="11.26" lengthAdjust="spacingAndGlyphs" stroke="#2a2a2a" stroke-width="0.06">SF_2</text>
<text x="179.80" y="348.29" font-size="4.9" text-anchor="start" fill="#2a2a2a" font-weight="normal" textLength="11.26" lengthAdjust="spacingAndGlyphs" stroke="#2a2a2a" stroke-width="0.06">SF_1</text>
<text x="101.20" y="193.40" font-size="5.2" text-anchor="start" fill="#1a1a1a" font-weight="normal" stroke="#1a1a1a" stroke-width="0.104">(c)</text>
<line x1="113.30" y1="360.10" x2="177.50" y2="360.10" stroke="#888" stroke-width="0.6"/>
<line x1="113.30" y1="358.60" x2="113.30" y2="361.00" stroke="#888" stroke-width="0.6"/>
<text x="113.30" y="369.00" font-size="5.0" text-anchor="middle" fill="#1a1a1a" font-weight="normal" textLength="8.66" lengthAdjust="spacingAndGlyphs" stroke="#1a1a1a" stroke-width="0.08">0.20</text>
<line x1="129.35" y1="358.60" x2="129.35" y2="361.00" stroke="#888" stroke-width="0.6"/>
<text x="129.35" y="369.00" font-size="5.0" text-anchor="middle" fill="#1a1a1a" font-weight="normal" textLength="8.66" lengthAdjust="spacingAndGlyphs" stroke="#1a1a1a" stroke-width="0.08">0.15</text>
<line x1="145.40" y1="358.60" x2="145.40" y2="361.00" stroke="#888" stroke-width="0.6"/>
<text x="145.40" y="369.00" font-size="5.0" text-anchor="middle" fill="#1a1a1a" font-weight="normal" textLength="8.66" lengthAdjust="spacingAndGlyphs" stroke="#1a1a1a" stroke-width="0.08">0.10</text>
<line x1="161.45" y1="358.60" x2="161.45" y2="361.00" stroke="#888" stroke-width="0.6"/>
<text x="161.45" y="369.00" font-size="5.0" text-anchor="middle" fill="#1a1a1a" font-weight="normal" textLength="8.66" lengthAdjust="spacingAndGlyphs" stroke="#1a1a1a" stroke-width="0.08">0.05</text>
<line x1="177.50" y1="358.60" x2="177.50" y2="361.00" stroke="#888" stroke-width="0.6"/>
<text x="177.50" y="369.00" font-size="5.0" text-anchor="middle" fill="#1a1a1a" font-weight="normal" textLength="8.66" lengthAdjust="spacingAndGlyphs" stroke="#1a1a1a" stroke-width="0.08">0.00</text>
<text x="142.60" y="379.90" font-size="4.9" text-anchor="middle" fill="#1a1a1a" font-weight="normal" textLength="40.6" lengthAdjust="spacingAndGlyphs" stroke="#1a1a1a" stroke-width="0.08">Bray−Curtis distance</text>
<line x1="207.80" y1="359.20" x2="334.60" y2="359.20" stroke="#888" stroke-width="0.6"/>
<line x1="207.80" y1="359.20" x2="207.80" y2="361.20" stroke="#888" stroke-width="0.6"/>
<text x="207.80" y="369.00" font-size="5.0" text-anchor="middle" fill="#1a1a1a" font-weight="normal" textLength="2.50" lengthAdjust="spacingAndGlyphs" stroke="#1a1a1a" stroke-width="0.08">0</text>
<line x1="233.16" y1="359.20" x2="233.16" y2="361.20" stroke="#888" stroke-width="0.6"/>
<text x="233.16" y="369.00" font-size="5.0" text-anchor="middle" fill="#1a1a1a" font-weight="normal" textLength="5.00" lengthAdjust="spacingAndGlyphs" stroke="#1a1a1a" stroke-width="0.08">20</text>
<line x1="258.52" y1="359.20" x2="258.52" y2="361.20" stroke="#888" stroke-width="0.6"/>
<text x="258.52" y="369.00" font-size="5.0" text-anchor="middle" fill="#1a1a1a" font-weight="normal" textLength="5.00" lengthAdjust="spacingAndGlyphs" stroke="#1a1a1a" stroke-width="0.08">40</text>
<line x1="283.88" y1="359.20" x2="283.88" y2="361.20" stroke="#888" stroke-width="0.6"/>
<text x="283.88" y="369.00" font-size="5.0" text-anchor="middle" fill="#1a1a1a" font-weight="normal" textLength="5.00" lengthAdjust="spacingAndGlyphs" stroke="#1a1a1a" stroke-width="0.08">60</text>
<line x1="309.24" y1="359.20" x2="309.24" y2="361.20" stroke="#888" stroke-width="0.6"/>
<text x="309.24" y="369.00" font-size="5.0" text-anchor="middle" fill="#1a1a1a" font-weight="normal" textLength="5.00" lengthAdjust="spacingAndGlyphs" stroke="#1a1a1a" stroke-width="0.08">80</text>
<line x1="334.60" y1="359.20" x2="334.60" y2="361.20" stroke="#888" stroke-width="0.6"/>
<text x="334.60" y="369.00" font-size="5.0" text-anchor="middle" fill="#1a1a1a" font-weight="normal" textLength="7.51" lengthAdjust="spacingAndGlyphs" stroke="#1a1a1a" stroke-width="0.08">100</text>
<text x="271.20" y="379.80" font-size="4.9" text-anchor="middle" fill="#1a1a1a" font-weight="normal" textLength="40.6" lengthAdjust="spacingAndGlyphs" stroke="#1a1a1a" stroke-width="0.08">Relative abundance</text>
</g>
</svg>
</body></html>
